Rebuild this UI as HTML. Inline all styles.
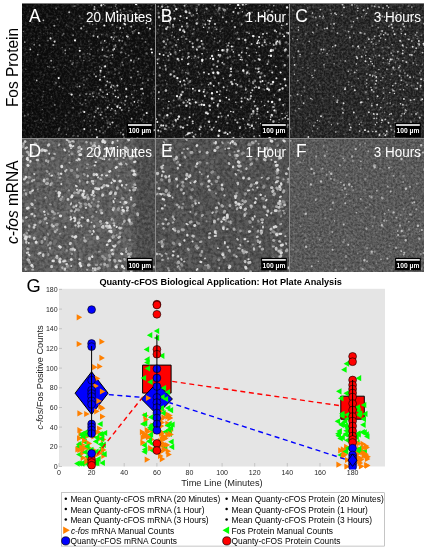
<!DOCTYPE html>
<html><head><meta charset="utf-8"><title>Quanty-cFOS figure</title>
<style>html,body{margin:0;padding:0;background:#fff;width:428px;height:550px;overflow:hidden}svg{display:block;font-family:'Liberation Sans', Arial, sans-serif}</style>
</head><body>
<svg width="428" height="550" viewBox="0 0 428 550">
<defs>
<linearGradient id="gD" x1="0" y1="0" x2="1" y2="0"><stop offset="0" stop-color="#000" stop-opacity="0.04"/><stop offset="0.2" stop-color="#000" stop-opacity="0"/><stop offset="0.83" stop-color="#000" stop-opacity="0"/><stop offset="0.87" stop-color="#000" stop-opacity="0.2"/><stop offset="1" stop-color="#000" stop-opacity="0.2"/></linearGradient>
<linearGradient id="gA" x1="0" y1="0" x2="1" y2="0"><stop offset="0" stop-color="#000" stop-opacity="0.25"/><stop offset="0.4" stop-color="#000" stop-opacity="0"/><stop offset="1" stop-color="#000" stop-opacity="0"/></linearGradient>
<filter id="soft" x="-1%" y="-1%" width="102%" height="102%"><feGaussianBlur stdDeviation="0.35"/></filter>
</defs>
<clipPath id="c0"><rect x="22" y="3" width="133" height="135"/></clipPath>
<g clip-path="url(#c0)">
<rect x="22" y="3" width="133" height="135" fill="#131313"/>
<rect x="22" y="3" width="133" height="135" fill="url(#gA)"/>
<filter id="g0" x="0" y="0" width="100%" height="100%" color-interpolation-filters="sRGB"><feTurbulence type="fractalNoise" baseFrequency="0.45" numOctaves="3" seed="3"/><feColorMatrix type="matrix" values="1.0 0 0 0 -0.425  1.0 0 0 0 -0.425  1.0 0 0 0 -0.425  0 0 0 0 1"/></filter>
<rect x="22" y="3" width="133" height="135" filter="url(#g0)" opacity="0.3"/>
<g filter="url(#soft)">
<path stroke="#2c2c2c" stroke-width="1.4" stroke-linecap="round" d="M100.3 73h0M93.7 24.2h0M116.7 13.6h0M70.5 92.5h0M87.8 123.5h0M43.6 23.3h0M125.4 8.9h0M120.1 67.9h0M67.9 127.3h0M154.9 95.6h0M135 5h0M108.5 119.8h0M56.9 121.9h0M70.8 129.4h0M144.4 30.5h0M38.6 11.7h0M135.4 128h0M116.7 9h0M41.1 60.3h0M76 47.8h0M128.8 27.9h0M75.8 41.6h0M77.7 136.8h0M68.6 71.5h0M45.6 26.7h0M102.9 33.3h0M108.1 16.5h0M37.9 39.9h0M53.9 39.2h0M79.8 20.7h0M119.1 126.7h0M110.6 22.3h0M129.8 42.3h0M127.6 128.7h0M73.3 60.6h0M121.6 85.2h0M81.7 7.3h0M86.3 124.8h0M153.9 4.2h0M32.1 17.6h0M141.2 25.1h0M89.6 96.8h0M102.6 102h0M31.8 127.5h0M122.6 3.2h0M107.8 105.6h0M60.4 48.2h0M143.3 84h0M88.1 97.2h0M62.2 20.1h0M146.4 13h0M121.6 98.5h0M136.7 60.6h0M146.9 48.8h0M119.7 71.6h0M80.7 93.7h0M89.5 102.8h0M148 110h0M87.3 11.5h0M27.4 79.6h0M95 53.1h0M150.1 59.9h0M105.9 54.6h0M82.1 23.3h0M146.9 119.8h0M73.1 21.8h0M128.1 105.2h0M116.6 41.2h0M23.4 63.7h0M23.4 65.9h0M119.9 94.6h0M35.6 82.5h0M27.3 6h0M119.9 123.1h0M85.7 118.6h0M90 94.2h0"/>
<path stroke="#2c2c2c" stroke-width="1.8" stroke-linecap="round" d="M138.3 38.2h0M22.9 92.6h0M35.2 59h0M52.9 120.9h0M62.1 119.7h0M124.7 52.6h0M22.4 70h0M45.4 27h0M105.5 80.1h0M97.5 19.9h0M32 43.6h0M47.2 14.1h0M78.4 4.9h0M98.9 38h0M27.1 120.6h0M82.8 62.3h0M69 113.2h0M95.6 128.7h0M90.2 75.9h0M81.1 60.3h0M114.3 30.2h0M42.1 81.6h0M97.9 136.7h0M151.2 97.8h0M28.3 16.3h0M153.7 4h0M63.5 87.7h0M143.6 23.2h0M111.5 72.8h0M146.1 49.2h0M72.1 124.5h0M106.7 60.6h0M132.3 43.3h0M79.5 116h0M58.3 58.1h0M80.9 44.5h0M106.5 60.2h0M127.1 63.9h0M80 57.9h0M40.1 72.7h0M25.9 24.4h0M107.4 78.1h0M39.8 82.1h0M65.9 59.6h0M144.3 58.9h0M46.6 44.6h0M127.1 14.4h0M62.8 29.8h0M90.1 131.7h0M103.4 48.5h0M91.4 117h0M57 66.5h0M55.5 40.4h0M126.8 89.7h0M55.1 81.9h0M152.4 10h0M147 60h0M52.7 37.2h0M98.2 13.4h0M151.1 9.4h0M148.5 44h0M105.8 113.6h0M77.9 8.8h0M82.5 83.3h0M81 36.4h0M80.8 48h0M38.9 88.4h0M70.2 61.1h0M30.3 33.5h0M96.2 108h0M147.9 132.5h0M144.2 121.5h0"/>
<path stroke="#363636" stroke-width="1.4" stroke-linecap="round" d="M145.9 39.5h0M120.2 101.9h0M25.1 48.8h0M52.9 73.7h0M104.7 4.9h0M90.3 59.4h0M36.8 120.7h0M74.2 120h0M152.4 5.1h0M84.5 9.2h0M72.5 87h0M34.8 26.5h0M91.8 65.2h0M142.1 47.5h0M34.6 79.5h0M88.2 102.1h0M87.6 14.1h0M50.4 116.1h0M110.2 122.9h0M152.5 95.9h0M43.3 94.7h0M88.2 85h0M88.4 96.4h0M107.3 34.8h0M88.6 22h0M121.5 103.1h0M73.2 63h0M60.5 3.3h0M76.8 132h0M110.3 78.4h0M23.9 130.8h0M73 24.1h0M106.3 73.7h0M153.5 91.5h0M72.7 124.4h0M113.8 47.7h0M52.4 81.7h0M122.6 130.4h0M101.2 81.1h0M41 128.5h0M57.3 68.8h0M126.3 32.5h0M100.2 77.9h0M119.1 113.7h0M111.9 12.8h0M70.2 87.6h0M122.4 116.2h0M98.9 49.6h0M23 111.8h0M24.8 54.7h0M77.6 135.4h0M43.2 117.7h0M135.1 84.4h0M94.4 93.1h0M153 56.1h0M41.3 72.1h0M147 123.4h0M37.3 100.2h0M142.8 79.3h0M80.7 121.8h0M51.3 52.2h0M148.6 131h0M32.9 25h0M41.6 132h0M119.8 79h0M150.3 35.3h0M30.8 55h0M43.6 33.4h0M33.3 51.8h0M59.4 21.8h0M88.4 12.3h0M113.3 77.7h0M70.6 74.1h0M82.1 68.7h0M59.7 106.6h0M31.4 38.7h0M144.2 103.3h0M148.8 79h0M88.1 78.6h0M151.2 120.5h0M53.9 20.1h0M116.7 69.5h0M107.7 51h0M87.2 49.5h0"/>
<path stroke="#363636" stroke-width="1.8" stroke-linecap="round" d="M77.4 4.4h0M41.7 100.1h0M89.2 57.8h0M46.2 127.1h0M42.8 121.8h0M113.2 57.2h0M58.3 31.2h0M90.7 100.3h0M49.9 56.1h0M54.6 84.1h0M76.5 66.7h0M61.3 134h0M66.8 82.3h0M68.1 55.9h0M124.5 23.9h0M71.7 44.8h0M148.1 65.3h0M47 63.3h0M80.4 131.2h0M65.5 49.4h0M86.1 105.9h0M94.3 111.7h0M114.1 48.7h0M51.7 106.3h0M116.5 26.2h0M144.2 63.3h0M118.7 68.4h0M109 57h0M93 15.3h0M129.9 121.5h0M38.4 127h0M83.7 57.7h0M56.4 109.4h0M32.5 113h0M148.2 14.7h0M75.9 55.3h0M148 4.1h0M43.1 137.1h0M87.5 66.7h0M151.4 22.1h0M68.1 26.2h0M150.9 8.8h0M30.9 136.9h0M131.8 31.5h0M126.4 90h0M32.7 133.8h0M36.3 61.3h0M47.5 32.3h0M63.1 52.2h0M136.4 57.8h0M138.3 59.1h0M73.7 126.6h0M65.7 44.9h0M124.6 82.8h0M31.8 93.2h0M60.4 64.8h0M22.2 103.4h0M95.3 8.9h0M101.1 41.6h0M117.1 11.8h0M138.7 9.9h0M154 98.5h0M150.1 133.7h0M143 77.9h0M102.7 77.2h0M94.2 62.4h0M130.6 122.7h0M28.1 125.6h0"/>
<path stroke="#3e3e3e" stroke-width="1.5" stroke-linecap="round" d="M130.8 103h0M96.8 11.5h0M22.1 129.9h0M30 47.5h0M135 108.5h0M85.3 87.9h0M29.7 11.2h0M90.4 33.8h0M87.3 70.5h0M112.9 41.6h0M36.9 40.5h0M154 92.5h0M99.4 80.3h0M149.2 30.5h0M92.7 94.9h0M90.2 71.2h0M57 116.3h0M109 7.8h0M88.3 117.2h0M123.9 103.6h0M62.5 101.4h0M114.9 36.3h0M135.9 126h0M126.8 131h0M91.5 107.6h0M127.9 34.5h0M107.1 61.4h0M128.1 35.1h0M124.3 44.6h0M129.9 13.4h0M113.5 118.6h0M91.2 113.9h0M27 105.2h0M118.8 14h0M40 32.4h0M116.5 46.8h0M105.7 67.6h0M102.9 3.6h0M110.1 60.6h0M105.9 35.4h0"/>
<path stroke="#3e3e3e" stroke-width="1.9" stroke-linecap="round" d="M74.2 19.7h0M152.8 117.6h0M100.6 108.5h0M154 86.7h0M46.1 27.6h0M138.2 71.4h0M141.3 72.5h0M65.2 128.1h0M105.9 100.5h0M109.4 122.2h0M120.1 77.1h0M76 86.3h0M112.7 101h0M152 79.7h0M133.6 24.9h0M132.1 138h0M26.8 52.6h0M52.1 33.6h0M93.9 92h0M92.3 18.3h0M31.8 22.5h0M115.6 44.6h0M91.5 4.8h0M101.2 91h0M100 132h0M72.6 115.6h0M93.1 19h0M124.7 43.4h0M77.2 84.3h0M95.9 106.8h0M138.8 74.4h0M146.4 67h0M136.7 107h0M112.8 100.2h0M77.2 62.8h0M26.8 60.9h0M44.1 74.9h0M100.9 22.2h0M84 80h0"/>
<path stroke="#4a4a4a" stroke-width="1.5" stroke-linecap="round" d="M106.9 60.3h0M98.1 35.5h0M92.9 58.6h0M118 19.9h0M120.7 36.1h0M106.3 42.4h0M151.2 133.6h0M131 70.3h0M115.3 70.5h0M112.2 93.2h0M118.9 130.6h0M57.6 133.5h0M120.1 96.1h0M113.8 116.1h0M126.1 11.5h0M100.6 75.3h0M94.9 67.6h0M114.7 127.7h0M135.2 121.4h0M106 11.5h0M107.8 35.9h0M107 14.8h0M120.7 66h0M93 55.7h0M81.1 23.4h0M133.4 85.4h0M88.3 19.2h0M138.2 7.3h0M153.2 72.1h0M125.2 16.2h0M151.3 5.8h0M82.9 54.3h0M131 16h0M124.5 84.1h0M99.9 95.2h0M118 132.7h0M38.7 38.4h0M29.1 102.4h0"/>
<path stroke="#4a4a4a" stroke-width="1.9" stroke-linecap="round" d="M114.7 12.9h0M73.8 135.4h0M113.7 46.3h0M151.2 93.2h0M116.6 126.2h0M98.7 112.7h0M139.2 12.2h0M83.1 111.3h0M141.7 98.4h0M92.1 134.8h0M108 82.3h0M108.4 100.7h0M73.8 79h0M129.4 10.8h0M116.7 8h0M97.8 86.7h0M49.3 67.2h0M102.7 47.5h0M128.5 131.1h0M118.8 15.1h0M79.1 113.5h0M42.5 96.8h0M84 54h0M88.8 74.9h0M133.2 68.4h0M131.2 103.3h0M50.5 33.1h0M73.4 6.3h0M68.1 129.1h0M147.2 54h0M145.7 23.5h0M89.8 121h0M93.4 120.8h0M110.8 13.7h0M106.6 34.1h0M89.3 60.6h0M66.6 24.9h0M134.3 126.3h0M80.1 71.3h0M113.1 10.6h0M135.1 14.1h0M105.2 131.2h0M103.3 3h0M130.9 70.4h0M107.9 122.1h0M144.5 133.4h0M143.6 123.3h0M80.8 112.4h0M114.7 86.8h0M135 123.2h0M96.3 23.9h0M68.6 112.4h0M109.8 123.8h0M111.7 63.5h0"/>
<path stroke="#585858" stroke-width="1.5" stroke-linecap="round" d="M109.2 92.4h0M97.6 50.8h0M95.1 125.3h0M97.6 10.2h0M141.2 95h0M88.7 41.2h0M129.2 39.1h0M120.1 94.7h0M72.9 28.3h0M133.8 68.1h0M43.5 91.4h0M23.8 98.3h0M102.4 48.5h0M73.6 96.9h0M110.2 55.5h0M112.6 88.6h0M65.1 65.4h0M72.4 101.3h0M99.6 57.1h0M55.1 69.4h0M51.4 96.7h0M117.9 98.3h0M134.1 60.3h0M137.2 5h0M103.7 126.1h0M35 121.3h0M95 99.5h0M136.6 90.7h0M106.9 120.7h0M148 85h0M141.6 120.8h0M110.1 126.9h0M111.4 7.3h0M89.3 47.2h0M95.1 9.8h0M99.6 74.9h0M82.2 18.7h0M154.7 56.1h0M91.1 43.8h0M130.2 84.6h0M25.9 69.2h0M109.4 43.9h0M50 89.8h0M90.3 54.6h0M124.5 16h0M116.4 125.8h0M89.1 5.2h0"/>
<path stroke="#585858" stroke-width="1.9" stroke-linecap="round" d="M80.2 103.3h0M120.8 132.6h0M105.7 109.4h0M134.4 90.6h0M105.7 109.6h0M106.5 90h0M140.7 118.8h0M125.8 44.7h0M134 132.6h0M116.4 36.7h0M83.5 77.4h0M116.9 10.9h0M28.2 114.5h0M148.5 74.6h0M73.1 62.7h0M106.1 116.7h0M124 137.3h0M130.8 10.7h0M138.5 9.9h0M129 108h0M97 97.2h0M65.7 115.5h0M77.4 86.9h0M107.6 123.4h0M142.1 38.6h0M102.2 59.9h0M135.9 46.6h0M108.6 72.2h0M40.9 120h0M115.3 47.1h0M110.6 62.9h0M62.4 35.3h0M101.9 96.4h0M115 74.1h0M123 129.6h0M104.9 5.6h0M70.6 94.3h0M101.3 127.6h0"/>
<path stroke="#686868" stroke-width="1.5" stroke-linecap="round" d="M135.7 29.7h0M132.6 104.9h0M58.9 128.9h0M153.7 74.3h0M101.6 68.7h0M90.5 130h0M105.5 97.2h0M69 93.4h0M87.6 53.6h0M69.5 48.8h0M66 122.3h0M118.6 105.3h0M110.9 116.7h0M142.5 119.2h0M70.5 60.7h0M137.9 74.9h0M72.9 136.1h0M114.4 37.6h0M135 85.2h0M122.9 37.2h0M122.2 41.5h0M151.6 24.1h0M23.5 31.5h0M62.9 88.5h0M116.8 27.5h0M85.8 103.7h0M150.2 9.2h0M138.7 105.7h0M132.6 3.4h0M112.4 57.4h0M135.4 126.5h0M154.4 89.1h0M113.3 32.7h0M132.1 18.8h0M147 122.3h0M62.2 47.5h0M73.4 29.2h0M125.9 57.4h0M142.5 110h0M147.9 96.1h0M121.9 32.4h0M42.3 109.6h0M119.7 29.3h0"/>
<path stroke="#686868" stroke-width="1.9" stroke-linecap="round" d="M103.2 132.7h0M24.7 115.7h0M108.4 50.5h0M119.1 73.1h0M48 40.6h0M96 110.8h0M99.7 66.8h0M123 65h0M141.7 102.6h0M89.7 54.1h0M59.5 128.1h0M83.7 26.3h0M53.8 67.2h0M137.4 136.9h0M74.8 6.1h0M132.4 135.8h0M63.6 33.8h0M83.9 84.8h0M115 69h0M110.4 19.4h0M82.2 104.6h0M101.7 34.6h0M89.7 23.5h0M86.4 31.6h0M122.3 40.6h0M84.3 120.5h0M73.1 107.7h0M105.7 56.1h0M131.5 50.7h0M138.4 100.4h0M86.6 93.7h0M100.9 43h0M57.4 19.2h0M54.4 118.5h0M121.4 102.6h0M146.3 53.2h0M133.7 62h0M99 93.5h0M101.9 112.3h0M78 136h0M79.6 16.3h0M56.2 8.5h0"/>
<path stroke="#7a7a7a" stroke-width="1.5" stroke-linecap="round" d="M134.2 30.7h0M132.7 31.7h0M120.6 132.4h0M83.8 60.4h0M79.3 47.9h0M137.7 102.3h0M65.4 53.4h0M136.8 112.1h0M117.7 90.2h0M108.5 127.6h0M92.5 24.6h0M102.5 19.3h0M115 104.2h0M101.5 67.8h0M109.6 104.7h0M106.8 47h0M116 4.5h0M114.5 32.9h0M86.8 78.9h0M66.4 134.4h0M140.4 77.7h0M106.9 21.3h0M88.9 114.5h0M115.4 6.2h0M91.1 49.3h0M113.3 50.5h0M95.4 112.2h0M121.4 13h0M125.7 53.7h0M132 12.1h0M132.9 33.2h0M90.3 125.7h0M123.4 28.2h0M110.6 110.2h0M47.8 66.5h0"/>
<path stroke="#7a7a7a" stroke-width="1.9" stroke-linecap="round" d="M131.3 26.4h0M79.8 95.2h0M124 8.8h0M34.2 44.8h0M54.8 104.9h0M102.9 92.1h0M148 80.3h0M122.2 62.5h0M94.2 74.1h0M128.7 55.4h0M102.5 118.3h0M145.5 41.9h0M115.8 113.5h0M142.6 82.9h0M144 115h0M101.4 3.6h0M121.6 52.2h0M86.1 94.1h0M96.6 28.8h0M85.4 99.9h0M100.5 72.1h0M99.7 130.9h0M106.2 85.2h0M72.3 64.3h0M130.7 127.4h0M92.7 93.3h0M133 97.4h0M119.4 19.9h0M111.7 85.3h0M90 94.3h0M128.8 110.6h0M103.1 97.2h0M120.8 52.6h0M124.9 104.7h0M80 56.5h0M58.8 130h0M56 82.9h0M121.9 48.1h0M104.4 55.8h0M59.3 86.6h0M108 127.1h0M39.5 45.3h0M120.4 10h0M73.1 35.3h0"/>
<path stroke="#9a9a9a" stroke-width="1.7" stroke-linecap="round" d="M37.7 54.6h0M110.3 124.3h0M106 85.3h0M115.3 45.4h0M65.2 50.4h0M113.5 85.7h0M104.4 66.7h0M24.8 42.1h0M115.3 110.7h0M138.6 58.7h0M147.2 27.6h0M107 56.8h0M140.8 88.9h0M113.3 94h0M131.8 94.3h0M110 82.4h0M137.8 71.5h0"/>
<path stroke="#9a9a9a" stroke-width="2.1" stroke-linecap="round" d="M131.1 77.5h0M114.9 90.5h0M129.3 132.2h0M51.2 60.8h0M121.8 110.1h0M113.2 49.8h0M143.1 93.5h0M53.4 45h0M125.4 100.8h0M93.5 35.9h0M54.3 25.7h0M112.4 24.8h0"/>
<path stroke="#b8b8b8" stroke-width="1.7" stroke-linecap="round" d="M94.5 6.9h0M94.4 116.7h0M79.6 86.4h0M131.2 26.6h0M93.4 96.5h0M37.7 18.3h0M112.5 54.9h0M36.7 80.4h0M131.6 118.7h0M121.6 78.8h0M43.4 20.3h0M111.8 108.6h0M113.5 39h0"/>
<path stroke="#b8b8b8" stroke-width="2.1" stroke-linecap="round" d="M123.2 134.6h0M127.8 36.8h0M100.6 114.7h0M81.2 28.4h0M119.4 40.5h0M69.2 12.2h0M111 87.1h0M131 60.4h0M100.3 89.7h0M97.9 108.5h0"/>
<path stroke="#d8d8d8" stroke-width="1.7" stroke-linecap="round" d="M103.4 3.8h0M96.3 129.6h0M107.2 81.3h0M102.4 49.9h0M94.2 9.1h0M104.7 40.8h0M136 4h0M154.4 130h0M114.3 48.9h0M96 76.4h0M30.4 49.4h0M126.9 36.2h0"/>
<path stroke="#d8d8d8" stroke-width="2.1" stroke-linecap="round" d="M151.3 49.2h0M142.1 88.8h0M117.4 85.6h0M125.2 24.5h0M123.9 18.7h0M50.5 38.4h0M107.6 107.6h0M131.7 21.3h0M100 79.8h0M126.4 96.6h0M111.5 37.2h0M84.3 129.1h0M117.3 106.2h0M150 28.8h0M97 137.3h0M120.1 107.7h0M126.2 88.9h0M54.6 41.6h0M112.5 122.5h0"/>
<path stroke="#f0f0f0" stroke-width="1.7" stroke-linecap="round" d="M109.8 19.1h0M117.5 107h0M118.2 97.3h0M49.8 3.2h0M146.3 22.9h0M104.4 76.6h0M107.3 94.2h0M115.6 96.5h0M124.3 23.7h0M97.7 36.8h0M120.3 27.9h0M134.4 101.8h0"/>
<path stroke="#f0f0f0" stroke-width="2.1" stroke-linecap="round" d="M104.3 25.5h0M136.9 17.7h0M101.3 5.4h0M58.7 78.1h0M117.2 11.9h0M138.8 33h0M152 52.5h0M100.6 70.7h0M79.8 50.7h0M71.7 94.6h0M84.3 112h0M75 40.4h0M136.1 4.2h0M105.2 66.3h0M146.7 113h0"/>
</g>
</g>
<text x="29" y="21.8" font-size="17.5" fill="#fff">A</text>
<text transform="translate(152,21.8) scale(1,1.1)" font-size="13.5" fill="#fff" text-anchor="end">20 Minutes</text>
<rect x="127" y="122.9" width="25.7" height="14.2" fill="#000"/>
<rect x="128" y="124.2" width="23.7" height="1.6" fill="#fff"/>
<text x="139.8" y="133.1" font-size="6.7" font-weight="bold" fill="#fff" text-anchor="middle">100 µm</text>
<clipPath id="c1"><rect x="156" y="3" width="133" height="135"/></clipPath>
<g clip-path="url(#c1)">
<rect x="156" y="3" width="133" height="135" fill="#181818"/>
<filter id="g1" x="0" y="0" width="100%" height="100%" color-interpolation-filters="sRGB"><feTurbulence type="fractalNoise" baseFrequency="0.45" numOctaves="3" seed="10"/><feColorMatrix type="matrix" values="1.0 0 0 0 -0.406  1.0 0 0 0 -0.406  1.0 0 0 0 -0.406  0 0 0 0 1"/></filter>
<rect x="156" y="3" width="133" height="135" filter="url(#g1)" opacity="0.3"/>
<g filter="url(#soft)">
<path stroke="#303030" stroke-width="1.4" stroke-linecap="round" d="M224.3 13.9h0M259.8 96.8h0M218.6 89.6h0M225.8 110.5h0M236.8 60.1h0M280.6 88.6h0M274.5 94.3h0M233.4 15.4h0M246.3 117.3h0M176.5 40.4h0M256.9 77.5h0M210 109.9h0M191.3 80.9h0M280.7 27h0M187.1 58.6h0M246.5 32.2h0M280.2 29.6h0M193.8 34.4h0M228.1 65.8h0M237 70.6h0M222.6 17.5h0M234.3 41.7h0M234.4 68.3h0M242.7 92.9h0M282.3 38.4h0M237.3 24.2h0M170.3 116.5h0M204.5 23.4h0M182.4 54.6h0M202.4 15.5h0M198.7 35.5h0M246.3 77.2h0M230.8 85.2h0M213 116h0M254.2 74.3h0M162.5 91.7h0M236.3 117.9h0M264.3 22.6h0M246 81.2h0M223.3 126.6h0M245.4 43.3h0M164.6 8.3h0M229 22.9h0M168.1 90.7h0M218.5 69.4h0M277.8 54.5h0M243.6 135.3h0M177.9 18.9h0M184.6 88.3h0M233.4 133h0M205.5 123.5h0M249.8 42.2h0M163.2 11.2h0M223.1 67.3h0M252.3 65.5h0M274.7 137.2h0M237.8 50.8h0M187.3 46.1h0M182.8 100h0M251.3 103.4h0M177.1 127.8h0M285.3 57.9h0M220.2 34h0M212.4 95.5h0M229.8 56h0M219.3 103.2h0M246.6 128.7h0M158.6 53.6h0M194.5 99.7h0M205.4 19h0M267.5 13h0M274.6 112.7h0M279.6 4.8h0M157.2 100.6h0M277.1 35.7h0M264.6 14.2h0M259.4 114.8h0M285.2 78.5h0M194.6 67.8h0M230.4 51.1h0M172.8 56.8h0M249.4 15.4h0"/>
<path stroke="#303030" stroke-width="1.8" stroke-linecap="round" d="M279.2 105.4h0M204.8 11.5h0M157.7 9.8h0M218.2 12.6h0M242.1 86.8h0M240.3 12.5h0M173.4 124.1h0M250.5 96.7h0M248.2 37.2h0M226.4 68.1h0M242.4 48.2h0M286.1 6.6h0M264.3 114.7h0M232.4 108.4h0M173.5 95.7h0M190.4 30.7h0M166.2 49.4h0M205.9 129.1h0M166.5 59.3h0M269.3 110.4h0M241.4 48.5h0M272.7 109.1h0M201.4 48.7h0M194.8 48.9h0M237.9 102.3h0M264.9 100.1h0M256.7 28h0M171.7 7.8h0M199.1 46.4h0M168.2 93.4h0M269.3 125.2h0M277.4 85.5h0M231.9 136.9h0M248 21.2h0M196.9 30.6h0M175.8 124.1h0M171.3 93.2h0M283.8 47.9h0M209.9 59.4h0M264 127.1h0M226.5 110.5h0M266.9 38.9h0M231.2 64.7h0M172 35.1h0M182.5 72.9h0M167.6 36.5h0M273 65.4h0M216.8 57.6h0M265.6 103.6h0M187.3 6.2h0M247.9 119.7h0M185.3 118.5h0M169.3 15.9h0M165.2 52.9h0M163.3 17.5h0M197.4 41.3h0M255.3 80.8h0M214.7 97.3h0M288.3 57.3h0M162.8 85.6h0M173.2 45.6h0M156.3 73.6h0M231.7 48.9h0M191.6 26.5h0M183.5 136.2h0M163.2 117.4h0M225.4 51.5h0M274.6 14.6h0M265.6 44.7h0M270.6 98.4h0M177.7 97.9h0M162.5 48.4h0"/>
<path stroke="#3a3a3a" stroke-width="1.4" stroke-linecap="round" d="M238.7 19h0M203 69.6h0M234.8 80.4h0M186.6 28.5h0M174.9 125.8h0M166.1 33.8h0M234.4 11.6h0M227.6 58.6h0M238.5 111.7h0M258.9 42.9h0M194.9 111.1h0M246.5 22.7h0M224.4 103.3h0M265.9 62.1h0M166.5 36.1h0M165.3 115.3h0M244.3 30.8h0M274.7 116.1h0M253.1 133.5h0M222.3 101.2h0M207.7 133.5h0M220.3 37.2h0M230.2 119.2h0M183.5 15.5h0M181.5 71.9h0M287.3 67.8h0M186.8 70.3h0M167.1 106.1h0M226.9 15.4h0M253.5 37.9h0M182.4 41.3h0M194.5 99.5h0M232.1 116.3h0M176.2 45.9h0M209 97.7h0M161.9 128.5h0M203.3 77.2h0M265.1 13.4h0M218.8 135.6h0M242.8 105.9h0M250.6 19.7h0M276 81.6h0M271.7 22.1h0M234.2 53.6h0M249.2 20.2h0M259.5 5.6h0M213.3 43.9h0M245.6 61.8h0M202.7 84.3h0M258.1 55.4h0M172.9 13.3h0M214.7 14.1h0M189.7 20.2h0M279.8 10.9h0M225.8 70.3h0M210.6 106h0M195.3 8.1h0M264.6 12.3h0M223 62.2h0M189.3 133.4h0M174.2 126.1h0M261.1 85.2h0M284.9 25.1h0M195.4 56h0M260.3 11.7h0M179.1 31.9h0M201.8 123h0M174.6 20.3h0M177.9 92.1h0M223.4 23.8h0M196.3 6.5h0M249 113.2h0M157.4 51.1h0M254.3 28.4h0M156.7 102.6h0"/>
<path stroke="#3a3a3a" stroke-width="1.8" stroke-linecap="round" d="M204.2 95h0M174.8 39.8h0M220.3 10.1h0M162.3 37.2h0M262.9 45.4h0M287.3 56.9h0M167.9 117.7h0M274.3 121.2h0M227.6 67.8h0M221.2 123.2h0M224.9 102.2h0M271.2 84.2h0M257.9 114.4h0M156.3 31.3h0M193.2 91.2h0M187.9 80.5h0M281.4 4.5h0M268.6 59.8h0M172.1 127.5h0M203 19.7h0M225.6 119.1h0M171 43.5h0M218.8 20.1h0M240.4 133.8h0M266.3 7.1h0M173.8 111.1h0M177.9 81h0M260.3 39.2h0M176.8 42.3h0M234.3 60h0M189.2 11h0M251.6 125.4h0M162.3 80.6h0M231.2 38h0M180.5 129.1h0M284.8 42.7h0M286.6 134.8h0M167.3 117.9h0M182.5 120.1h0M217.5 116.8h0M193 115.6h0M239.2 126.5h0M271.8 70.4h0M168.9 56.1h0M250.1 115h0M168.4 19h0M228.3 79.8h0M209.9 89.3h0M266.8 38.7h0M213.1 113.2h0M206.9 44.3h0M260.6 116.3h0M265.1 13.8h0M253.1 122h0M169.7 113.1h0M277 23h0M198.2 28.7h0M193.8 33h0M200.4 102.1h0M181.6 72.8h0M267.1 14.8h0M224.4 13.9h0M189.7 113.4h0M158.8 84.8h0M212.2 36.8h0M218.6 5.5h0M259.9 15.2h0M226.6 22.6h0M284.7 137.8h0M278.8 51.1h0M178.1 80.4h0"/>
<path stroke="#424242" stroke-width="1.5" stroke-linecap="round" d="M212.4 99.7h0M259.6 81.2h0M161.4 120h0M277.5 117.3h0M262.5 106.4h0M254.3 79.6h0M236.7 104.3h0M222.8 32.7h0M223.8 54.2h0M161.5 99.8h0M286.5 127.2h0M209.5 87.2h0M283.4 47.7h0M185 42.3h0M209.7 126.5h0M246.7 10.3h0M231.8 83.4h0M247.6 91.2h0M258.5 126.3h0M262.6 66.3h0M246.5 102.9h0M206.3 49.5h0M248.8 4.1h0M269.7 36.2h0M188 69.9h0M190.4 6h0M255.1 79.7h0M284.2 108.9h0M250.2 45.1h0M264.9 32.9h0M232.6 17.7h0M162.6 69.3h0M276.5 19.8h0M212.4 26.9h0M194.1 130.6h0M182.6 21.4h0M254 80.6h0M194.2 107h0M165.9 42.4h0M244.7 97.6h0M186.1 102.9h0M192.9 133.2h0M269.3 106.4h0"/>
<path stroke="#424242" stroke-width="1.9" stroke-linecap="round" d="M176.7 105.8h0M255.6 85.7h0M196 20.4h0M241.5 53h0M163 110.6h0M264.2 115.7h0M197.2 6.8h0M172.9 121.6h0M274 56.3h0M265.5 80.9h0M273.7 97.1h0M261.5 123.7h0M233.8 42.9h0M269.8 25.3h0M263.1 89h0M239.7 22.7h0M184.7 17.6h0M213.5 51.5h0M248.2 70.6h0M234.2 56.4h0M206.5 93.5h0M157.4 32.8h0M252.7 60.9h0M266.8 124.7h0M164.4 116.8h0M263.5 23.2h0M207.7 121.4h0M195.2 64.7h0M249.3 79h0M177.4 47.2h0M213.8 76.6h0M237.2 71.2h0M246.5 92.7h0M178.2 8.1h0M187.6 23.2h0M197.9 22.9h0M246.2 98.4h0M174.3 137.2h0M215.5 13.6h0M170.6 104.7h0M198.3 61.8h0M188.3 120.3h0M244.3 73.2h0M212 16.6h0"/>
<path stroke="#505050" stroke-width="1.5" stroke-linecap="round" d="M189.9 88.7h0M244.5 124.5h0M202.3 25.4h0M244 15.8h0M160.5 7.9h0M158.3 29.7h0M182.7 43.7h0M246.1 60.6h0M248.6 85.6h0M178.3 99.6h0M174.8 50h0M263.7 46.5h0M249.4 131.2h0M267.1 124.4h0M255.3 49.8h0M173.9 107.5h0M207.1 79.2h0M229.4 91h0M184.3 48.7h0M214.3 127.1h0M273.7 65.6h0M209 11.1h0M162.5 85.2h0M198.7 104.9h0M283.8 106h0M170 41.8h0M255.2 99.2h0M183.3 35.4h0M277.1 9.8h0M222.4 28.4h0M170.7 49.3h0M163.5 121.6h0M241.2 25h0M168.2 105h0M158.7 125h0"/>
<path stroke="#505050" stroke-width="1.9" stroke-linecap="round" d="M217.8 11.3h0M197.6 102.4h0M239.6 86.6h0M164.8 115.9h0M217.7 42.7h0M250 116.1h0M284.7 103.9h0M205.9 59h0M205.2 118.8h0M207.7 131.9h0M248.4 48.5h0M266.7 86.1h0M260.3 73.6h0M165.4 7.7h0M184.3 36.5h0M235.7 33.4h0M288.9 14.9h0M218.8 84.7h0M162.4 4.7h0M196.8 3.6h0M232.8 61.8h0M252.4 124.3h0M278 128.3h0M243.7 134.6h0M190.7 14.9h0M214.5 41.4h0M203 24h0M162.8 120.4h0M285.6 113.5h0M278.3 133.8h0M166.2 52.8h0M175.5 53.9h0M276.2 112.7h0M207.1 111.9h0M186.1 4.3h0M245.9 42.2h0M269.4 5h0M216.3 9.6h0M240.2 81.1h0M275.9 39.4h0M242.1 51.4h0M251.1 108.8h0M241.8 4h0M259.1 42.8h0M252.4 116.2h0M170.1 27.5h0M181 99.9h0"/>
<path stroke="#5e5e5e" stroke-width="1.5" stroke-linecap="round" d="M163.5 60.2h0M191.6 58.4h0M226.2 43.5h0M200.6 136.1h0M245.6 87.6h0M187.6 88.4h0M221.3 28.9h0M239.9 136.2h0M180.5 50.6h0M238.4 71.2h0M286.3 24.5h0M178.4 84.5h0M267.3 83h0M188.7 99.9h0M274.7 104.9h0M169.1 123.2h0M246.1 32.3h0M206.7 9.4h0M287.6 112.8h0M182.1 10h0M181.7 85.1h0M282.5 18.6h0M259.9 5.4h0M204.6 12.7h0M266.3 117.3h0M185.1 81.5h0M226.4 46.8h0M275.9 116.8h0M201.6 64h0M218.5 116.8h0M204.2 20.8h0M179.4 67.9h0M227.5 8.7h0M231.8 66.9h0M162.6 26h0M283.1 61.4h0M207.2 52.3h0M165.6 80.5h0M192.7 92.7h0M182.6 49.8h0M170.1 42.7h0"/>
<path stroke="#5e5e5e" stroke-width="1.9" stroke-linecap="round" d="M188 83.5h0M201.6 84.5h0M182.5 70.4h0M288.5 43.9h0M246.4 74h0M269.7 70.6h0M194.1 57.9h0M264.9 75.9h0M268.3 62.3h0M172.4 47h0M174.2 5.2h0M259.5 68.1h0M281.2 55.9h0M171.4 129.9h0M271.7 134.7h0M237.4 38.5h0M183.5 137.7h0M286.5 50.2h0M166.8 84h0M159 58.8h0M239.7 118.9h0M185.7 88.2h0M270.6 136.4h0M224.7 11.5h0M170.1 23.7h0M175.3 6.5h0M249 120.3h0M247.7 14.3h0M163.9 117.9h0M226.2 117.5h0M227.5 86.4h0M245.6 15.3h0M275.4 48.3h0M277.5 36.8h0M169 127.5h0M242.7 38.6h0M262.3 37.3h0M199.4 74h0M197.6 77.2h0M273.4 122.6h0M207.5 92.5h0M197.2 66.6h0M219.4 13.8h0M222.6 8.6h0M273 125.6h0M162.4 33.4h0M250.2 117.5h0M163.3 41.4h0M279.4 100.4h0M156.8 85.5h0"/>
<path stroke="#7a7a7a" stroke-width="1.6" stroke-linecap="round" d="M211.8 33h0M200.8 133.9h0M245.6 90.3h0M189.9 107h0M159.2 136.1h0M163.1 99.2h0M185.6 135.4h0M171.6 35.6h0M193.3 114.4h0M163.4 108.2h0M198.5 72.2h0M245.7 128.1h0M172.3 32.2h0M264.3 89.9h0M204.5 126.1h0M282.9 25.6h0M274.4 107.1h0M264 10.9h0M273.2 44.1h0M197.3 19.4h0M183 56.9h0M162.3 15.6h0M166 4.1h0M276.7 135.9h0M166.4 10.9h0M264.5 84.5h0M220.2 31.3h0M237.2 85.6h0M274.9 110.1h0M169.5 52.4h0M215.1 27.3h0M164 14.4h0"/>
<path stroke="#7a7a7a" stroke-width="2.0" stroke-linecap="round" d="M256 122.5h0M212 68.9h0M242.2 137.8h0M218.7 9.8h0M274.5 104h0M181.7 37h0M172.5 124.6h0M194.3 137.4h0M232 21.1h0M193.9 29.3h0M265.4 127.2h0M174.2 10.9h0M279.6 41h0M266.3 44.6h0M249.3 73.7h0M173.6 100.5h0M230.2 56.7h0M255.7 105.7h0M193.3 15h0M195.2 90.6h0M192.6 33.7h0M168.6 60.2h0M254.9 60.8h0M199.4 104.9h0M259.5 55.4h0M171 113.2h0M214.6 5.5h0M166 129.3h0M229.9 4.2h0M275.9 111h0M190.6 104.1h0M217.7 106.5h0M158.8 92.5h0M176 121.6h0M243.6 71.5h0M237.4 32.6h0M249.2 81.1h0"/>
<path stroke="#7a7a7a" stroke-width="2.4" stroke-linecap="round" d="M213.6 64.8h0M198.6 47h0M227.3 123.1h0M198.7 4.5h0M168.2 108.1h0M257 113.9h0M186.3 11.8h0M253.3 113.2h0M188.4 53.2h0M236.3 92.5h0M173.2 26.5h0M261.4 73.2h0M158.6 13h0M202.2 59.9h0M186.3 38.9h0M164.4 47.2h0M286.3 42.4h0M255 81h0M264.7 40.3h0M214.8 77.7h0M179.6 98.3h0M184.7 118.6h0M223.8 64.1h0M203.8 48.3h0M202.5 44h0M223.7 50.3h0M175.4 52.2h0M279.9 33.5h0M267.1 19.1h0M227.7 57.7h0M159.9 67.8h0M189.6 81.9h0M213.2 98.6h0M235.3 119.9h0M187.5 26.5h0M249.2 124.9h0M173.8 71.5h0M196.6 9.1h0M159.4 115h0M241.2 86.4h0M278.7 90.5h0M268.6 10.1h0M188.2 73.4h0M280.1 43.7h0M253.1 81.9h0"/>
<path stroke="#969696" stroke-width="1.6" stroke-linecap="round" d="M165.9 68.2h0M195.4 56.4h0M159.5 25.6h0M181.9 86h0M232 49.9h0M232.8 46.5h0M209.8 126.9h0M214.6 38.3h0M191.7 16h0M226.6 90.3h0M257.3 72.7h0M268.4 61.2h0M192.5 99.2h0M244.8 97.9h0M247.1 32.4h0M186.1 100.6h0M159.7 127.3h0M185.9 72.6h0M183 30.9h0M158.3 6.4h0M240.4 126.7h0M267.1 11.2h0M203.4 3.8h0M190.3 80.9h0M281.4 28h0M245.9 21.3h0M243.4 119.1h0M279.2 119.8h0M202.6 101h0M278.9 123h0M284.6 49.9h0M261.5 101.8h0M252.1 12.3h0"/>
<path stroke="#969696" stroke-width="2.0" stroke-linecap="round" d="M255.8 68.4h0M257.4 111.2h0M251.5 113.9h0M221.6 116.4h0M165.9 69.8h0M228.9 43.1h0M166.1 44.3h0M227 51.7h0M219.8 56.5h0M248.6 99.8h0M254.2 136.6h0M187.7 101.9h0M288.2 55.4h0M178.8 60.5h0M280.3 21.7h0M218.2 103.9h0M167.7 6.7h0M241.7 24.2h0M268.6 82.7h0M282.6 118.8h0M252.7 36h0M216.5 29.2h0M241.3 57.2h0M195.5 134.6h0M280.5 84h0M179.3 105.4h0M259.2 42.9h0M218.7 72.7h0M220.4 113.2h0M272.4 84h0M270.8 84.3h0M167.6 39.5h0M198.4 57.6h0M160.7 131.5h0M168.8 20.2h0M241.1 107.2h0M264.6 75.8h0M204.4 89.8h0"/>
<path stroke="#969696" stroke-width="2.4" stroke-linecap="round" d="M238.9 38.9h0M238.2 13.3h0M165.8 90.6h0M286.3 125.6h0M265.1 18.8h0M247.1 65.1h0M218 61.2h0M206.6 8.6h0M159.6 75.4h0M166.2 125.8h0M224.5 132.9h0M197.4 39.8h0M200.5 126.7h0M219.4 8h0M164.9 128.7h0M176 45.1h0M223.9 9.8h0"/>
<path stroke="#b4b4b4" stroke-width="1.6" stroke-linecap="round" d="M179.8 20.5h0M201 127.5h0M282 113.5h0M273.8 5.7h0M253.1 83.6h0M256.4 52.6h0M213.6 127.6h0M235.5 8.2h0M270.1 43.3h0M179.7 50.5h0M250.1 127.5h0M196.6 10.8h0M174.3 37h0M229.6 76.1h0M225.5 10h0M278.1 126.9h0M246.8 73.4h0M220.1 91h0M258.4 58.9h0M258.5 118.5h0M274.3 95.1h0M209 27.9h0M195 56.1h0M197.2 13.5h0M219.8 41.1h0M220.4 100.8h0M247.6 3.5h0M223.4 78.4h0M242.4 11.7h0M235.8 102.2h0M288 125h0M264.4 124.5h0M282.9 34.2h0"/>
<path stroke="#b4b4b4" stroke-width="2.0" stroke-linecap="round" d="M242 59.8h0M167.6 26.9h0M186.9 78.4h0M245.8 89.2h0M288 119.1h0M157.6 59.5h0M187.3 125.1h0M186.8 23.6h0M228.1 45.4h0M168.1 56.1h0M195.5 102.3h0M250.4 98.5h0M246.9 48h0M178.6 116.4h0M254.1 101.5h0M267.4 64h0M184.5 5.7h0M196.8 49.3h0M230 132.5h0M287 32.7h0M200 46.5h0M165.4 65.7h0M226.3 21.8h0M241.6 98.2h0M273.1 106.9h0M205.3 24.4h0M222.8 17.3h0M273.8 45.1h0M253.7 128.6h0M233.4 111.9h0M262.2 45.2h0M184.6 84.6h0M164.9 16.1h0M211 18.3h0M179.8 96.8h0M192.6 43.4h0M173.1 24.7h0M251.6 44.1h0M216.1 121.8h0"/>
<path stroke="#b4b4b4" stroke-width="2.4" stroke-linecap="round" d="M251 96.1h0M183.5 30.5h0M159 17.3h0M192.9 47h0M189.3 99.7h0M174.3 76.2h0M272.1 11.6h0M211.8 129.5h0M276.2 43.8h0M183.6 102.6h0M220.2 55.1h0M274.9 30.6h0M260.1 77.2h0M272.9 50.3h0M234.9 27.1h0M286.3 126.7h0M230.6 75h0M279.5 42.2h0M277 132.5h0M258.3 68.7h0M284.9 50.5h0M182.6 92h0M284.7 65.3h0M180.7 126.8h0M250 13.5h0M163.8 41.5h0M239.1 55.1h0M231.3 82h0M189.6 12.9h0M166 90.4h0M273.4 121.5h0M280.7 127.4h0M162.1 6.6h0"/>
<path stroke="#d4d4d4" stroke-width="1.6" stroke-linecap="round" d="M264.5 105.5h0M234.5 79.7h0M173.6 126h0M259.5 135.7h0M169.8 22.1h0M233.4 51.9h0M249.2 55.6h0M178.1 39.5h0M281.6 25.3h0M157.6 63.4h0M250.8 92.8h0M213.8 102.7h0M219.5 94.5h0M276.3 31.8h0M254.8 106h0M257.6 41.9h0M207.9 20.4h0M241.7 52.5h0M249.1 33.2h0M187.7 58h0M192.2 132.5h0M207.6 32.1h0M208.5 84.8h0M270.4 119.6h0M260.9 123.5h0M268.9 55.6h0M246.4 53h0M272.2 115.8h0M286.9 115.7h0M209.2 24h0M254.5 87.8h0M158.7 98.7h0M192.9 123.5h0M243.1 118.5h0M246 4.3h0"/>
<path stroke="#d4d4d4" stroke-width="2.0" stroke-linecap="round" d="M225.6 132.6h0M218.6 54.9h0M233.5 137.7h0M192.7 121.4h0M260.6 81.7h0M246.6 15.6h0M276.3 42.3h0M264.8 42.3h0M263 34h0M188.4 63.8h0M204.8 95.9h0M228.1 115.4h0M177.9 119.1h0M217.1 66.4h0M223.7 87.2h0M188.8 56.8h0M247.9 124.3h0M237.3 122.4h0M193.5 136.6h0M271.1 15.7h0M276.4 78.2h0M252.3 90.3h0M268.3 101.5h0M168.9 20.8h0M229.1 99.6h0M286.9 23.9h0M271.1 49.8h0M215 23.9h0M242.9 4.7h0M184 80.5h0M233.4 12.1h0M239.9 128h0M182 59.3h0M189.9 132.9h0M208.8 74.1h0M267.7 112.1h0M218.5 117h0M282.5 124.6h0M204 72.5h0M163.6 55h0M202.6 3h0M272.2 72.4h0M170.6 54.2h0M182 26.5h0M285.8 49.3h0"/>
<path stroke="#d4d4d4" stroke-width="2.4" stroke-linecap="round" d="M279.8 99.5h0M175.7 120.1h0M161.3 125.4h0M270.6 130h0M288.7 33.3h0M186.4 105.8h0M253.3 111.2h0M212.1 56h0M282.6 88.5h0M232.3 84h0M166.3 28.7h0M209.6 105.7h0M247.3 72.4h0M220 100.8h0M209.1 121.7h0M259 87.7h0M181.2 94.7h0M269 89.7h0M177.7 59h0M170.6 74.4h0M251.9 125.8h0M227.4 49.7h0M196.7 23.5h0M180 29.8h0M230.9 68.7h0M271.7 114.9h0M186.1 12.1h0M183.1 127.6h0M210.5 83.2h0M245.3 40h0M185.7 11.5h0M206.1 112.8h0"/>
<path stroke="#f0f0f0" stroke-width="1.6" stroke-linecap="round" d="M256.1 87.1h0M236 83.7h0M158.9 92h0M230.8 111.5h0M210.1 109.9h0M255.6 21h0M168.9 101.5h0M237.4 84.8h0M187.8 64.3h0M283.1 104.9h0M222.3 62.7h0M226.4 97.5h0M189.9 41.8h0M258.3 40.4h0M275.9 66.5h0M219.1 130.7h0M210.3 58.3h0M285.2 117.6h0M203.6 27.2h0M202.1 61.5h0M187.1 134.5h0M156.4 119h0M247.5 99.1h0M218.8 83.1h0M231.1 71.6h0M259.1 46.8h0M197 50h0M240.3 59.5h0M266.9 33.3h0M202.1 53.8h0M213.8 85.9h0M239.8 8.3h0M270.8 117h0M218.4 50.2h0"/>
<path stroke="#f0f0f0" stroke-width="2.0" stroke-linecap="round" d="M180.2 81.7h0M186.8 18.1h0M257.1 43.3h0M262.5 80.9h0M184.5 31.9h0M199.6 129.3h0M262.1 15.7h0M159.7 53.9h0M195.9 102.6h0M258.8 71.7h0M189.7 103.2h0M192.9 88.8h0M158.3 130.5h0M201.5 41h0M241.6 101.5h0M227.6 134.1h0M280.6 72.5h0M189.6 117.3h0M279.8 89.7h0M217 92h0M231.7 46.4h0M284.1 36.3h0M259.1 37h0M285.7 85.4h0M217.6 105.4h0M180.5 16.3h0M274.3 110.5h0M203.7 91.7h0M157.3 121.9h0M277.3 41.2h0M163.3 125.6h0"/>
<path stroke="#f0f0f0" stroke-width="2.4" stroke-linecap="round" d="M167.3 115.3h0M283 124.4h0M259.6 59.6h0M270.8 50.9h0M219.4 130.7h0M257.4 108.8h0M211.9 98.5h0M179 116.6h0M199.2 90.8h0M287.1 7.4h0M207.7 113.6h0M218.1 73.2h0M273.1 82h0M272.1 102h0M267.4 88.8h0M209.7 21.1h0M238.2 4.9h0M177 96.1h0M174.5 18.6h0M176.3 9.1h0M218.5 135.8h0M222.4 50.2h0M204.1 104.9h0M188.3 133.4h0M213.3 72.7h0M212 93.2h0M271 55.8h0M284.8 79.2h0M269.6 137.8h0M243.3 70.5h0M177.4 78.1h0M253.4 36.1h0M202.3 59.9h0M213.1 59h0M217.6 72.5h0M201.6 104.6h0"/>
</g>
</g>
<text x="160.7" y="21.8" font-size="17.5" fill="#fff">B</text>
<text transform="translate(286,21.8) scale(1,1.1)" font-size="13.5" fill="#fff" text-anchor="end">1 Hour</text>
<rect x="261.1" y="122.9" width="25.7" height="14.2" fill="#000"/>
<rect x="262.1" y="124.2" width="23.7" height="1.6" fill="#fff"/>
<text x="274" y="133.1" font-size="6.7" font-weight="bold" fill="#fff" text-anchor="middle">100 µm</text>
<clipPath id="c2"><rect x="290" y="3" width="134" height="135"/></clipPath>
<g clip-path="url(#c2)">
<rect x="290" y="3" width="134" height="135" fill="#2a2a2a"/>
<filter id="g2" x="0" y="0" width="100%" height="100%" color-interpolation-filters="sRGB"><feTurbulence type="fractalNoise" baseFrequency="0.45" numOctaves="3" seed="17"/><feColorMatrix type="matrix" values="1.0 0 0 0 -0.335  1.0 0 0 0 -0.335  1.0 0 0 0 -0.335  0 0 0 0 1"/></filter>
<rect x="290" y="3" width="134" height="135" filter="url(#g2)" opacity="0.35"/>
<g filter="url(#soft)">
<path stroke="#3c3c3c" stroke-width="1.4" stroke-linecap="round" d="M385.6 40.4h0M334.4 102.6h0M302 38.6h0M361.9 79.8h0M411.5 104.3h0M372.3 128.9h0M308.5 63.8h0M413.2 32.7h0M389.9 10.4h0M356.3 115.5h0M343.2 47h0M323.7 45h0M312 19.1h0M369.1 9.7h0M420.3 33.1h0M344.2 13.3h0M374.4 82.7h0M389.2 21.9h0M309 25.4h0M323.3 48h0M402.4 108.5h0M407 88.5h0M320.8 92h0M403.5 36.3h0M345.3 101.8h0M319.2 80.9h0M372.5 46.5h0M306.2 50h0M322 29.4h0M355.8 76.3h0M320.6 35.1h0M349.8 118.7h0M290.8 119.9h0M338.9 3.9h0M337.8 99h0M313.6 18.6h0M297.1 29.3h0M313.3 105h0M365.6 93.7h0M312.5 137.4h0M293 40.7h0M411 125.3h0M399.8 65.5h0M314.5 76.9h0M376.2 86.6h0M296.3 111.8h0M394.7 128.8h0M318.7 30.9h0M341.6 123.5h0M409.6 22.6h0M368.9 105.1h0M297 100.1h0M314.9 20.3h0M396.3 113.2h0M339.1 83.6h0M413.8 13.7h0M355.3 122.5h0M326.1 85.2h0M416.7 85.9h0M312 32.1h0M385.9 95.4h0M336.9 30.6h0M396.5 12h0M324 99.2h0M414.4 110.9h0M337.9 38.6h0M310.3 16.2h0M363.3 124.3h0M399.7 85.3h0M359 5.4h0M412.9 105.2h0M290.9 84.9h0M423.3 58.6h0M357.7 3.1h0M347.7 40.9h0M305.3 135.4h0M382.9 136.8h0"/>
<path stroke="#3c3c3c" stroke-width="1.8" stroke-linecap="round" d="M358.7 6.8h0M422.1 48.6h0M336.6 108.1h0M384.7 64.3h0M382.5 107.9h0M382 131h0M394 32.1h0M310.8 72.1h0M311.8 84.2h0M363.3 122.6h0M405.7 61.2h0M370.3 65h0M390 6.3h0M390.9 129h0M343.3 44.9h0M365.6 82.9h0M359.8 70.8h0M421 114.7h0M410 27.1h0M399.1 128.4h0M360.9 104.7h0M309.8 58.8h0M358.4 116h0M348.9 85h0M317.1 30.4h0M310.5 65.9h0M394 75.1h0M295.7 66.9h0M294.8 114.2h0M376.4 12.8h0M302.1 77.3h0M387.7 11.6h0M337.9 120.8h0M412.1 87h0M355.3 18.8h0M313.4 88.8h0M317.2 60h0M358.6 52.6h0M296 45.6h0M409 4.5h0M355.7 135.8h0M309.4 88.4h0M326.1 118.7h0M371.6 113h0M375.6 76.2h0M422.7 41.1h0M333.6 15.3h0M325.9 6.2h0M400.1 122.8h0M333.7 39.3h0M358.9 132.9h0M349.6 3.2h0M303.9 113.4h0M306.2 32h0M328.1 91.4h0M336.3 80.3h0M298.6 68.4h0M397.3 65.1h0M395.7 81.3h0M363.3 50.2h0M309.3 82.7h0M363.4 25.1h0M333.8 117.6h0M411.7 84.3h0M321.4 107.8h0M353.2 52.3h0M408 65h0M395.3 4.5h0M332.1 61h0M370.4 30.3h0M419.9 126.4h0"/>
<path stroke="#464646" stroke-width="1.4" stroke-linecap="round" d="M323.2 19.5h0M341.3 12.4h0M385.1 16.8h0M398.9 67h0M382.4 116.2h0M303.1 27.8h0M310.9 104.4h0M337.5 78h0M348.3 57.5h0M319.1 70.3h0M379.4 119.5h0M321.2 134.5h0M343.2 29.7h0M351.8 66.4h0M325.8 133.3h0M399.1 74.8h0M341.5 54h0M301.9 38.9h0M326.7 69.6h0M294.2 110.1h0M372.8 56.2h0M312.6 25.3h0M315.3 114h0M417 30.1h0M423.8 6.8h0M306.5 121.4h0M372.9 60.1h0M394.5 132.9h0M384.3 115.3h0M403.1 83.6h0M409 134.6h0M388.6 63.7h0M409.2 99.2h0M376.4 30.1h0M373.8 109.7h0M371.6 5.9h0M299.9 79.6h0M325.2 39.8h0M398.1 28.4h0M413.4 103.1h0M290.5 39.9h0M380.7 23.6h0M350.8 10h0M316.7 18.7h0M315.1 62.3h0M376.2 23.1h0M290.6 106.7h0M338.6 51.5h0M373 124.2h0M323.9 103.2h0M385.9 47.2h0M351.9 53.4h0M381 14.2h0M308.1 26h0M320 48.3h0M405.5 121.9h0M404.7 73.7h0M388.1 94.6h0M395.5 41.4h0M301.4 91.3h0M317.9 133.9h0M390.3 41.4h0M412.8 40.1h0M398.2 68.7h0M397.2 57.1h0M327 23.3h0M333 98.6h0M344 14.4h0M367.3 73.2h0M344 12.4h0"/>
<path stroke="#464646" stroke-width="1.8" stroke-linecap="round" d="M324.2 38.3h0M388.4 116.1h0M295.9 48.7h0M421 22.5h0M416.9 78h0M309.3 74.2h0M402.6 25.6h0M420.3 75h0M386.7 33.1h0M366 58.4h0M404 81h0M300.4 34.7h0M300.5 10.8h0M319.3 40.6h0M369.2 109.7h0M323.5 42.1h0M316.9 88.7h0M311.6 43.4h0M330.1 70.6h0M318.5 40.7h0M330.6 129.8h0M375.8 25.2h0M341.6 26.2h0M348.8 119.7h0M410.2 125.6h0M293.5 24.2h0M394.8 11.8h0M298.2 105.8h0M381.9 131.7h0M391.8 60.5h0M300.3 128.3h0M355.6 51.8h0M344.7 40.3h0M293.5 36.4h0M407.7 84.1h0M292.8 127.5h0M423.4 125.1h0M323.6 42.4h0M298.7 36.3h0M338.4 66.1h0M299.7 116.3h0M339.5 64.1h0M418 12.8h0M327.9 45.3h0M372.1 54.4h0M343.6 5.9h0M420.8 127h0M358.4 94h0M402.3 4.7h0M395.5 115.3h0M322.2 29.6h0M337.4 83.5h0M350.1 27.3h0M335.1 37.3h0M385.7 74.5h0M309.7 6.8h0M300.8 69.6h0M311.4 88.1h0M386.4 55.2h0M337 81.8h0M384.5 97.4h0M322.3 13.4h0M335.1 97.4h0M311.9 44h0M313.5 3.7h0M413.2 107.5h0M336 23h0M406.2 25.9h0M418.1 123.4h0M345.8 77.6h0M423.5 95.2h0M389.8 106.9h0M325.1 31.6h0M296.5 83.4h0M304.3 45h0M325.4 50.7h0M358.8 120.6h0M362.3 53.1h0M368.7 39.3h0M312.7 6.4h0M415.4 103.6h0M366.5 67.4h0"/>
<path stroke="#5c5c5c" stroke-width="1.5" stroke-linecap="round" d="M388.6 54.8h0M380.1 74.1h0M301.9 102h0M412 130.9h0M364.2 17.1h0M364.6 15.4h0M374.4 114.8h0M381.1 118.3h0M371.1 59.4h0M415 60.3h0M386 87.9h0M411 102.6h0M363.1 62.9h0M365.2 107.8h0M395.7 69.2h0M365.1 93h0M317.4 89h0M414.4 118.8h0M346.1 17.1h0M405.1 131.8h0M387.8 132.5h0M384.3 75.6h0M326.4 55.3h0M395.4 34h0M322 115.2h0M397.7 52.7h0M390 98.2h0M309.7 114.7h0M385.6 81.7h0M369.1 46.8h0M407.8 62.7h0M384 22.7h0M378.9 136.3h0M345.5 93h0M410.7 120.8h0M369.9 27.8h0M295.4 45.2h0M392.2 21.8h0M405.9 97.1h0M402.1 79.9h0M331.5 117.1h0M330.2 58.1h0M381.3 102.4h0M365.2 84.6h0M335.1 87.6h0M382.2 112.2h0M408.2 18.1h0M344.2 134.6h0M371.1 136h0M421.1 89.1h0M383.3 134.4h0M316.7 28.7h0M386.9 34.2h0M413 85.4h0M293.4 101.3h0M415.9 58.8h0"/>
<path stroke="#5c5c5c" stroke-width="1.9" stroke-linecap="round" d="M337.3 80.9h0M331.8 31h0M399.4 7.4h0M397.8 120.8h0M401.3 41.8h0M350.8 21.3h0M306.3 118.5h0M383.5 50.9h0M392.6 50.4h0M392 106.1h0M350.3 73.9h0M322.5 98.4h0M328.6 121.7h0M379.7 109.6h0M404.3 57.7h0M372.3 80.6h0M370.5 59.1h0M327.9 54.9h0M362 125.3h0M403.8 70.6h0M351.3 70.3h0M406 82.2h0M345.2 30.6h0M387.4 46.9h0M346 35.4h0M342.4 118.2h0M356.9 5.7h0M401.6 31.1h0M363.6 115.8h0M303 43.4h0M343.9 110h0M354.2 85.8h0M340.6 60.4h0M393.6 51.6h0M371.6 106.2h0M403.2 107.4h0M329.3 50.6h0M333.7 55.3h0M407.5 39h0M363.1 132.1h0"/>
<path stroke="#787878" stroke-width="1.5" stroke-linecap="round" d="M419.6 133.1h0M304.7 4.1h0M373.6 57h0M319.7 85h0M323 117.1h0M373.9 38.2h0M365.5 14.1h0M309.7 123.1h0M319.6 53.6h0M307.9 9h0M368 37.7h0M408.6 127.8h0M324 18h0M319.5 121.2h0M362.6 102.2h0M394.3 70h0M410.1 26.1h0M291.8 28h0M381.8 119.8h0M348.4 84.4h0M417.1 36.3h0M423.8 80.5h0M384.5 112.5h0M366 42.4h0M315.2 122.4h0M417.2 38.8h0M415.7 22.5h0M302.8 67.4h0M393.1 104.6h0M413.1 37.9h0M363 49.9h0M307.8 7.6h0M380 133.8h0M390.2 79.7h0M371.8 103.5h0M352.2 109.1h0M400.6 84.4h0M322.7 52.7h0M304.5 90.9h0M415.2 50.7h0M401.4 77.7h0M422.4 64.4h0M330.1 118h0M422 17.7h0M324.2 67h0M421.7 115.3h0M375.4 55.4h0M354.8 4.7h0"/>
<path stroke="#787878" stroke-width="1.9" stroke-linecap="round" d="M389.6 25.5h0M387.2 103.5h0M397.1 58.3h0M330.9 24.1h0M305.9 33.9h0M386.8 134h0M408.4 6.1h0M421.3 35.3h0M333.4 28.2h0M313.1 16.9h0M366.5 52h0M405.2 112.3h0M290.6 128.9h0M392.6 119.3h0M356.5 117.3h0M375.7 72.3h0M421 100.2h0M404.8 73.2h0M300 56.4h0M361.5 33h0M372.5 25.9h0M394.3 91h0M397.6 17.8h0M378.6 6.7h0M372.1 39.2h0M417.5 112.6h0M353.8 33.3h0M395 122.6h0M348.8 81.9h0M411.5 85.6h0M374.7 75.7h0M311.8 53.5h0M413.6 125.8h0M383.3 62.6h0M400.2 71h0M334.2 63.8h0M421 70.9h0M403.3 46.5h0M373.7 49h0M387.1 6h0M382.3 47.6h0M292.9 10.2h0M406.3 105.1h0M373.2 43.9h0M295.5 110.7h0M393.2 20.1h0M381.5 3.4h0M393.3 68.9h0M401.1 12.8h0M330.3 9.9h0M411.5 114.2h0M380.5 126.8h0M388.8 47.7h0M395.4 62.5h0M361.1 122.2h0"/>
<path stroke="#989898" stroke-width="1.5" stroke-linecap="round" d="M401 120.1h0M416.7 64.8h0M312.1 99.5h0M361.7 16.7h0M301.4 95.4h0M406.5 110.4h0M396.9 12.7h0M392.5 59.2h0M423.6 23.7h0M351.8 86.5h0M366.5 86.8h0M394.2 136.7h0M383.6 98.4h0M398.7 59.1h0M312.7 130.9h0M358.3 78.5h0M372 6.1h0M381.4 122.6h0M392.2 89.3h0M380.8 80.4h0M356.7 70.3h0M406.5 47.5h0M322.7 18.1h0M410.5 77.5h0M383.9 133.5h0M293.8 57.4h0M308 68h0M292.7 38.7h0M298.4 27.3h0M402.1 113.7h0M317.4 128.7h0M415.3 88.7h0M387.5 59.4h0M368.5 64.7h0M414.3 52.1h0M400.1 89.5h0M313.5 33.1h0M413.6 77h0"/>
<path stroke="#989898" stroke-width="1.9" stroke-linecap="round" d="M401.3 115.8h0M383.2 58.3h0M411.8 7.1h0M383.1 8h0M412 54.9h0M324 64.7h0M412.8 20.2h0M349.9 130h0M314.8 70.5h0M391.2 53.2h0M419.2 44h0M342.2 15.1h0M349.5 124.3h0M315.7 17.4h0M337.6 100.2h0M290.6 95.6h0M400.9 29.2h0M383.6 93.1h0M405.8 124.5h0M374 66h0M418.3 43.6h0M366 92.1h0M416.9 32.5h0M364.7 33.8h0M351.7 26.7h0M391.6 74.1h0M395.4 17.6h0M352.9 46h0M342.3 108.7h0M313.8 125.7h0M385.4 33h0M345.4 61h0M389.2 63.5h0M423.8 45.1h0M373.7 91.7h0M411.8 41h0M410.9 128.1h0M371.5 42h0M324.7 28.6h0M366.6 79.9h0M416.5 135.6h0M379.3 35.7h0M297.8 80.6h0M382.2 16.3h0M317.2 25h0M415.6 34.9h0M386.9 69.2h0M388 34.6h0M393.2 67.5h0M337.7 123.8h0M391.4 129.7h0M364.8 47.2h0"/>
<path stroke="#bcbcbc" stroke-width="1.5" stroke-linecap="round" d="M366.8 74h0M385.5 39.4h0M366.8 83.3h0M388.8 26.4h0M358.5 46.2h0M410 15.3h0M403.6 89.7h0M376 88h0M387 5.6h0M392.9 55.2h0M376.7 118.2h0M371 87.4h0M313 77.5h0M332.7 46.8h0M331.4 124.8h0M359.4 124.3h0M361 3.3h0M294.4 74.2h0M297.3 39.6h0M380.7 38.1h0M376 44.3h0M366.5 13.5h0M392.1 44.7h0M379.2 7.2h0M378.1 27.8h0M380.9 34h0M365.7 55.4h0M378.9 69.4h0M299 108.4h0M389.6 61.3h0M389.8 92.6h0M393.5 31h0M372.5 76.2h0M390.2 103h0M312.7 32.3h0M334.2 23.8h0M389.6 114.5h0M376.8 122.4h0M372.9 75.2h0M401.4 33.5h0M357.8 10.8h0M388.6 7.6h0M317.4 120.4h0M394.5 131.3h0M327.1 53.6h0M372.8 131.5h0M419.8 73h0M383.5 88h0M323.3 16.2h0M333.3 96.3h0M312 75.5h0M420.2 86.9h0M379.2 41.1h0M331.1 13.8h0M309.2 41.5h0M335.8 132h0M304.1 87.1h0M359 48.1h0"/>
<path stroke="#bcbcbc" stroke-width="1.9" stroke-linecap="round" d="M379.2 55.5h0M417.7 83.1h0M392.4 27.7h0M367.9 8.4h0M407.5 134.3h0M398.9 67.6h0M407.6 75.5h0M323.6 49.5h0M354.7 72.4h0M416 114h0M408.9 39.4h0M342.5 4.5h0M404.1 26.5h0M357.3 18.2h0M298.4 51.3h0M321.3 49.5h0M411 122.1h0M393.4 67.6h0M361.5 102.1h0M360.2 32.8h0M415.2 136.1h0M391 59.2h0M375.6 83.9h0M391.2 113.7h0M343 112.7h0M397.9 51.6h0M403.1 24h0M395.4 131.9h0M356.5 56.8h0M361.7 56.8h0M297.5 94.4h0M410 77.2h0M419.3 44.7h0M303.6 103.3h0M337.4 33.1h0M390.6 126.1h0M374.6 6.4h0M415.2 134.8h0M335 13.3h0M395.6 83.4h0M370 75h0M359.6 131.1h0M349.9 37.5h0M382.1 31h0M414.2 99.6h0M319.8 16.4h0M348.6 31.6h0M422.6 52.6h0M410.6 100.3h0M371.8 105.4h0M410 54.7h0M385.3 119.4h0M363.6 10.3h0M419.8 117.8h0M320.4 9.6h0M402.9 104.7h0M399.5 75.6h0M352 4.9h0M416.2 48.3h0M380.8 107.6h0M393.1 90.5h0"/>
<path stroke="#dcdcdc" stroke-width="1.5" stroke-linecap="round" d="M336.2 14.4h0M394.4 93.6h0M413.1 63.1h0M385.9 20.6h0M310.9 98.4h0M369.7 58.6h0M356.4 64h0M372.3 63.7h0M411.7 55.1h0M417.3 127.8h0M300.1 54.5h0M400.5 103.7h0M374.1 118.6h0M345.2 87.9h0M375.6 3.4h0M375.3 124.8h0M384.4 17h0M402.9 50.4h0M353.5 21.7h0M405.3 110h0M370.8 61.5h0M312.6 13h0M402.9 60.7h0M357.9 8.3h0M348.2 71.2h0M298.5 30.1h0M383.7 34.7h0M399.9 66.1h0M392.8 85.8h0M401.3 80.3h0M374.8 36.2h0M368.1 98.9h0M404.4 113.7h0M416.8 135.9h0M382.9 77.7h0M407 84.9h0M333.9 24h0M396.1 131.1h0"/>
<path stroke="#dcdcdc" stroke-width="1.9" stroke-linecap="round" d="M344 7.4h0M388.5 122.8h0M379.4 135h0M398.9 130.5h0M365.2 130.1h0M353.8 112.4h0M391.5 24.4h0M357.3 58.3h0M418.9 41h0M377.1 104.8h0M386.7 131.3h0M365.5 61.2h0M308.4 137h0M321 116.2h0M405.3 34.2h0M294.6 64.9h0M379.9 15.6h0M345 89.3h0M406.3 62.1h0M350.7 127.4h0M377.1 114.3h0M376 131.4h0M354.9 90.3h0M385.3 135.2h0M327.1 28.3h0M403.9 98.9h0M337.1 102.1h0M414.6 129h0M368.9 112.2h0M420.7 85.6h0M382.1 120.2h0M373.7 113.9h0M417.1 88.7h0M364.7 130.1h0M377.6 96.2h0M422.2 99.2h0M400.1 40.7h0M421.1 79.2h0M376.3 80.8h0M360.9 102.5h0M368.9 39.1h0M423.5 43.8h0M376.3 77h0M358.1 46.5h0M402.6 45.2h0M335.5 45.5h0M407.2 133.7h0M343.6 103.3h0M394.5 34.3h0M368.3 131.4h0M371.8 89.9h0M412.7 46.7h0M402.7 53.4h0M390.6 59.6h0"/>
</g>
</g>
<text x="295.2" y="21.8" font-size="17.5" fill="#fff">C</text>
<text transform="translate(421,21.8) scale(1,1.1)" font-size="13.5" fill="#fff" text-anchor="end">3 Hours</text>
<rect x="395.1" y="122.9" width="25.7" height="14.2" fill="#000"/>
<rect x="396.1" y="124.2" width="23.7" height="1.6" fill="#fff"/>
<text x="408" y="133.1" font-size="6.7" font-weight="bold" fill="#fff" text-anchor="middle">100 µm</text>
<clipPath id="c3"><rect x="22" y="139" width="133" height="133"/></clipPath>
<g clip-path="url(#c3)">
<rect x="22" y="139" width="133" height="133" fill="#5c5c5c"/>
<rect x="22" y="139" width="133" height="133" fill="url(#gD)"/>
<filter id="g3" x="0" y="0" width="100%" height="100%" color-interpolation-filters="sRGB"><feTurbulence type="fractalNoise" baseFrequency="0.35" numOctaves="3" seed="24"/><feColorMatrix type="matrix" values="1.2 0 0 0 -0.239  1.2 0 0 0 -0.239  1.2 0 0 0 -0.239  0 0 0 0 1"/></filter>
<rect x="22" y="139" width="133" height="133" filter="url(#g3)" opacity="0.24"/>
<g filter="url(#soft)">
<path stroke="#666666" stroke-width="3.0" stroke-linecap="round" d="M64.7 166.9h0M114.8 141.4h0M85.6 192.7h0M75.9 187h0M110.4 214.2h0M98.2 237.8h0M100.6 183.8h0M130.8 234.2h0M106.1 226.5h0M102.3 239.7h0M96.5 271.9h0M67.2 268h0M31.2 246.5h0M84.8 162.7h0M120.3 180.5h0M79.3 246h0M67.8 217.7h0M73 250.6h0M36.3 238.5h0M123.4 216h0M116.3 254.9h0M46.3 153h0M69.1 150.5h0M90.5 153.4h0M108.5 186h0M50.5 207.8h0M115 207.2h0M128.1 210.5h0M125 258.9h0M41.6 228.8h0M130 158.7h0M30.4 165.3h0M33 147.2h0M63.5 221.7h0M68.5 266.3h0M108.3 269.2h0M55.9 171.5h0M94.4 257.5h0M81 256.9h0M71.6 187.4h0M126.2 213.6h0M129 172.5h0M81 177.5h0M130.1 254.4h0M73.1 270.5h0M72.6 246.2h0M110 239h0M53.9 153.4h0M25.4 220.7h0M103.4 230.9h0M22 247.5h0"/>
<path stroke="#666666" stroke-width="4.0" stroke-linecap="round" d="M110.4 203.8h0M79.4 168.7h0M110.6 166.3h0M125.8 202.2h0M114.9 153.4h0M81.1 254.1h0M90.7 213h0M83.7 147.8h0M102.4 175.9h0M56.9 162.9h0M48.9 269.7h0M82.4 148.6h0M122.5 202.2h0M99.4 188h0M101.4 245.8h0M125.7 271.4h0M63.8 214.2h0M119.8 255.9h0M96.7 201.4h0M81.2 195.4h0M108.9 272h0M124.8 255.2h0M69.1 146h0M86 239.3h0M105.8 254.7h0M110 159.7h0M64.5 168.1h0M85.7 188.1h0M61.9 263h0M27.3 224.6h0M126.3 246.4h0M34.5 226.3h0M31.4 169.7h0M116 213.3h0M117.5 156.9h0M68.2 192h0M79.3 160.8h0M29.5 203h0M135.2 148.8h0M117.4 169.2h0M115.4 222.3h0M92.2 242h0M101.2 146.1h0M132.4 162.4h0M127.4 189h0M117.4 259h0M100.8 178.8h0M125.7 270.2h0"/>
<path stroke="#6e6e6e" stroke-width="3.0" stroke-linecap="round" d="M28.9 256.4h0M110 222.4h0M108.7 250.6h0M57.1 168.1h0M97.8 176h0M106.5 255.1h0M77.8 170.2h0M80.1 250.9h0M88 238.8h0M64.5 150h0M76.5 244h0M23.2 242.5h0M104.9 173.8h0M28.1 162.3h0M60.7 266.6h0M119.6 210.5h0M126.3 255.6h0M38.2 160.8h0M58.4 177.3h0M61.3 251.9h0M129.8 199.1h0M83.3 183.6h0M46.8 182.2h0M50.4 192.4h0M24.4 251.3h0M80.4 164.7h0M75.1 206.2h0M90.9 227h0M36.8 151.1h0M112.5 183.2h0M125.6 231h0M108.4 170.7h0M53.5 142.9h0M66.4 188.3h0M127.3 201.5h0M98.5 198.8h0M55.2 218.3h0M29.6 156.6h0M85.8 204.3h0M54.3 243.8h0M72.7 271.6h0M64.5 212.2h0M53.9 175.5h0M94 199.7h0M22.8 218.5h0M80.4 254.6h0M119.2 170.7h0"/>
<path stroke="#6e6e6e" stroke-width="4.0" stroke-linecap="round" d="M75.2 236.4h0M53.9 270.4h0M26.7 204.8h0M98.8 183.4h0M109.2 265.2h0M114.1 229.5h0M96.5 219.2h0M95.1 143.5h0M90.5 242.4h0M131.3 266.8h0M68.2 266.8h0M82.3 264.8h0M123.6 249.7h0M31.9 255.7h0M28.3 207.1h0M131.8 267.7h0M68.4 207.3h0M73.4 269.5h0M50.7 250.9h0M108.3 258.2h0M65.1 159.1h0M65.2 218.4h0M124.5 239.3h0M63.1 198.3h0M67.4 181.6h0M98.9 230.3h0M55.1 241.4h0M66.6 271.8h0M37.1 243.2h0M135.9 174h0M89.7 255.2h0M41.2 210.6h0M94.2 237.9h0M99.1 225.2h0M39.6 165.7h0M109 176.1h0M54.6 228.5h0M30.9 237h0M134.3 183.5h0M109.9 252h0M26 169.7h0M127.2 271.9h0M97.3 223.9h0M120.5 150.9h0M134.9 171.2h0M113.8 195.9h0M74.2 173.2h0M113.7 149.4h0M129.9 248.8h0M38.5 184.3h0M105.6 153.8h0M108.1 186.5h0M115.1 210.9h0M94.4 204.9h0"/>
<path stroke="#989898" stroke-width="1.8" stroke-linecap="round" d="M54.2 217.8l-0.8 0.8M87.2 168.2l-0.5 -0.1M30.4 162.2l-0.4 0.3M88.3 164.5l-1.3 -0.4M99.9 251.7l-1.3 0.1M79.3 220l0.7 -0.9M125.3 188.2l-0.7 -0.8M47.8 213.9l0.6 0.2M91.7 202.6l0.1 0.2M118.6 175.8l-0.1 -0M87.6 194.8l-1.3 0.7M56.2 191.1l-0.3 0M122.9 223.6l-0.5 0.7M50.9 204.5l-1 -0.3M69 151.5h0M117.4 264.7l-0.7 0.4M120.7 156.2l0.1 -0.9M93.3 148.5l-1.4 0.1M60.6 233.6l-1 0.2M118.8 163.5l0.8 1M35.1 200.1l0.1 0.2M47.9 233.7l0.3 1.1M101.9 179.5l-0.1 -0.4M113.5 220.7l0 -0.8M51.6 182.7l0.7 0.6M32 180.8l0.1 -0.1M101 224.1l0.5 -0.5M37.7 189.4h0M48.5 244.6l-0.6 0.9M116.7 234.9l-0.6 0.8M69.4 155l-0.1 -0.1M98 157.8l-0.2 -0.1"/>
<path stroke="#989898" stroke-width="2.3" stroke-linecap="round" d="M135.9 174.7l-0.7 0.8M58 213.1l-0.2 0.3M68.9 190.4h0M71.9 253.9l-0.2 0.1M37.4 139.6h0M46.7 171l0.7 0.7M94.5 143l0.6 -0.3M22.6 156l-0.7 0.7M92.9 182.5l-0.7 0M92.7 216.3l-0.6 0.5M83.9 174l0.7 0.7M97 265l-1.1 -0.1M130.3 158.6l1.4 -0.2M65.1 268.4l-0.5 0.4M73.5 141.3l0.4 0.4M114 236.8l-0.3 0.1M27.3 182.4l0.8 0.1M76.6 204.9l-0.1 -0.1M133.8 187.5l-0.7 -0.6M91.3 143.8l-0.5 -1.1M113.1 235.5l0.6 0.2M66.7 250.5l-0 0.2M38.3 254l0.7 -0M121.1 162.7l-0.3 0.7M26.9 233.4l-0.3 -0.7M77.2 177.1l0.5 -0.3M48.4 254.2l-0 0.9M34.9 208.3h0M101 264.5l-0.2 0.1M101.5 210.1l-1 0.6M88.1 221l0.5 0.3M93.1 271.1l-0.4 -0.9M115.7 159l1.5 0.1M58.5 173.5l0.1 1M121.8 212.6l0.1 1.4"/>
<path stroke="#989898" stroke-width="2.8" stroke-linecap="round" d="M74.3 192.9l0.6 -0.3M50.5 242.6l-0.2 0.6M109.3 255.3l0.6 1.4M131.5 223.4l-0.8 0.6M39.9 222.3l0.5 -0.7M67.5 265.3l-0.1 1.1M130.9 254.2l0.2 -0.9M93.5 154.4l-0.9 0.8M29.6 177.4l-0.9 0M123.8 271.7l0.6 0.8M78 176.2l-0.9 -0.5M124 203.9l0.2 -0.1M131 270.1l0.5 0.4M29.2 261.8l0.5 0.7M113.2 249.9l0 0.4M57.3 224.4l-1.4 0.5M105.1 141.3l0.1 0M90.1 231.3l-0.4 -0.1M41.9 241.5l-0 1.1M123.1 198.5l-0.5 -0.2M86 204.7l-0.6 -0.7M44.9 237.4l-0.3 0.5M129.8 240.1l-0.1 -0M54.7 213.5l-0.1 0.3M72.2 153.8l-0.4 -0M53.2 158.3l-1.1 0.1M84.4 240.4l0.9 0.9M105.1 258.4l-0.2 0.9M22 146.9l1.1 -0.8M71.2 170.5l0.7 0M120.1 232.9l-0.1 0.3M118 209.6l0.6 -1.2M123.6 211.8l0.1 -1M77.8 209.6l0.9 0.5M130.8 157.5l-0.8 0.4M134.6 204.5l-0.9 0.9M103.3 256.8l-0.7 -0.5M60.6 199.6l0.4 -0.6M107.4 265.2l0.2 1M47.4 178.9l-0.2 0.2M119.3 241.7l-0.7 0.6M111.3 191.9l-0.3 1.2M81 206.3l-0.7 0.4"/>
<path stroke="#b0b0b0" stroke-width="1.8" stroke-linecap="round" d="M114.5 223.2l-1.2 -0M76.8 192.7h0M79.7 180.5l0.1 1.3M76 209.3l0.4 0.5M25.9 269.8l-0.6 -1.3M32.2 269.7l0.9 -0M49.3 173.8l0.1 0.1M93.4 199.3l0.3 -0.7M111.9 218.8l-0.5 1M134.1 184.8l1.3 -0M48.1 162.2l0.4 -1M112.2 236.9l0.5 1M126.2 248.4l-0.3 0.7M28.6 230.4h0M54.2 153.7l0.8 0.4M111.8 152.5l-0.2 -1.3M96.3 211.8l0.1 0.2M77.1 169l-0.1 0.9M62.3 196.8l0.1 0.1M32.1 152.5l0 1M80.9 203.5l-0.5 0.3M98.2 201.6l0.7 0.1M57 230.1l0.1 -0.6M86.9 269.9l0.5 -0.1M109.4 159.2l-0.3 0.4M88.1 196.8h0M69.5 162.6l-0.1 0.1M60.5 177.7l-1 0.2M79.1 202.6l0.1 -0.1M128.6 219.3l-0.3 1.3M84.2 237.5l0.1 0.4M100.3 158.3l0 -0.4M44.6 214.8l0.6 0M45.7 197.3l-0.4 0.4M38.6 155.3l-1.1 0.3M125.9 163.5l0.8 1M75.4 210.8l-0.7 1M101.7 158.1l0.9 0.9M133.6 151.2l-0.1 0.3M134.6 184.2l0.9 0.8M24.2 190.5l0.4 -0.3M58.8 145.2l0.6 -0.8M112.9 180.1l0 -0.9"/>
<path stroke="#b0b0b0" stroke-width="2.3" stroke-linecap="round" d="M42.9 150.5l-0.4 0.1M100.4 178.7l0.3 0.2M29.2 225.7l0.1 0.8M97.1 236.4l0.4 0.3M126.2 251.9l0.2 -0.8M83.9 193.5l-0.2 -0.3M62.5 268.1l-0.2 -0.6M120.7 228.2l0.7 -0.3M103.5 227.8l-0.3 -0.5M51.8 225.6l0.2 -0.9M86.3 142l0.3 0.3M45 239.2h0M97.8 238l0.6 0.5M92.7 146.2l0.6 -0.7M29 155.1l-0.1 -0.9M50.7 184l-0.2 1M124.4 259.1l0.3 0.5M130.2 222.3l-0.3 0.1M94.5 195.4l-0.6 0.5M32.1 181.2l0.4 -0.7M26.2 194.7l-0.3 -1.4M124.1 221.8l0.5 -1M154.9 267l-1.1 -0M124.7 202l0.2 -0.1M49.9 248.2l0.1 0.3M34.2 179.8l0 0.1M132.7 170.5l-0.9 0.1M23.6 143.9l-0 -0.5"/>
<path stroke="#b0b0b0" stroke-width="2.8" stroke-linecap="round" d="M52.3 211.5l0.6 0.3M28 152.4l-0.7 -0.4M109.6 260.1l0.2 0M113.7 208.3l-0.5 1M22.6 221.1l-0.7 -0.5M28.8 260l-1 -0.3M35.2 143.8l0.3 0.3M69.2 141.7l0.7 0.3M137.5 213.6l0.3 1.2M85.3 240.8l0 0.1M47.7 183.5l-1.3 0.1M110.3 227.6l0.4 0.3M100.6 221.4l-0.3 0.1M30.2 192.3l0.2 0.4M134.7 189.8l-1.1 0.2M108.2 227.7l-0.5 -0.3M103.7 186l0.5 -0.8M32.9 266.8l-0.1 0M78.7 147.5l0.9 -0.5M114.6 260.2l0.5 1M56.5 257.5l0.7 0.4M78.5 151.6l1.1 -0.5M128.3 254l1.2 0.5M24.5 235.6l-0.1 -0.7M134.7 151.7l-0.1 0.3M70.8 249.3l0.6 0.1M45.9 218.2l-0.9 0.8M117.3 188.6l-0 -1M71.4 210.9h0M90.6 206.4h0M135.8 156.4l0.1 -0M55.3 231.7l-0.2 -0.1M99.4 268l-1.3 0.6M28.1 248.9l-0.4 -0.2M88 199l0.3 -0.5M73.7 207l0 0.1M88.9 204.3l0.1 0.1M46.3 160.7h0M78.5 192.2l-0.2 0.7M104.8 264.6l-0.1 -0.4M97.8 206.2l0.3 -0.5"/>
<path stroke="#c8c8c8" stroke-width="1.8" stroke-linecap="round" d="M131.6 271.6l-0.7 0.1M122.8 153.5l-0.3 -0.4M113.3 210.3l-0.6 -0.5M129.7 190.3l0.2 0.3M117.6 140.8l-0.1 -0.5M79.2 259.2l0.5 0.2M66.5 139.8l1.2 0.5M81 225.2l0.7 1.2M70.8 148.1l0.5 0.1M75.3 219.3l0.1 -0.7M136.1 187.9l-1 -0.1M75.4 225.5l0.4 -0.3M118.4 237.4l0.2 0.3M71.2 266.1l0.1 -0.1M115 198.6l-0.1 0.1M66.4 169.8l0.2 0.1M46.6 222.9l0.5 0.3M65.7 261.3l-0.7 -1M76.3 160.2l1.2 0.3M71.2 203.2l-0.5 1.3M73 141.4l-1 -0.2M34.4 174.2l-0.3 -0.3M92.2 233.8l-0.1 0.6M91.5 222.3h0M93.5 184l-0.7 -0.5M120.3 202.2l0.1 -0M123.9 158.1l-0.6 -0.3M46.9 150.7l-0.3 -0.5M98.2 177.3l-0.2 0.3"/>
<path stroke="#c8c8c8" stroke-width="2.3" stroke-linecap="round" d="M34.6 215.7l0 0.5M81 190.4l-1.2 -0M106.6 148.7l-0.2 0.1M121.5 164.4l-1.3 -0.5M122.2 265.7l0.6 0.8M87.3 182.5l0.1 -0.5M92.1 194.8l-0.6 0M65.3 171.3l0 -0.2M40.3 252.9l-1 0.4M127 210.5l0.4 -0.2M115.4 245.5l-0.4 0.9M99.5 147.2l-0.7 -1.3M37 159.9l0.9 0.1M85.9 207.8l0.1 0M119.9 236.7l-1.2 0.9M87.7 176.1l0.1 -0.3M25.6 148.2l1.3 -0.7M72.6 236.5l-0.3 -0.1M56.9 255.9l0.2 0.1M26.4 241.9l-0.2 0.8M94.3 226.8l-0 -1M53.2 226.4l0.5 -0.3M26.9 252.8l1.1 -0.3M34.5 224.9l0.9 -0.1M119.1 260.7l1.4 0.4M64.8 269.6l0.2 -0.8M26.1 217.6l0.5 -0.3M93.1 181.1l-1.2 0.1M58.8 193.7l-0.1 -0.2M32.3 214l-0.8 0.1M94.6 145.3l0.5 0.8M78.7 225.9l-0.2 0.6M126.4 184.8h0M101.8 175.2l0.2 -0.2M70.6 217.2l-0 0.1M24.2 179.3l0.7 -0.5M43.2 254.5l-0 1.5M104.9 156.3l-0.8 -0.2"/>
<path stroke="#c8c8c8" stroke-width="2.8" stroke-linecap="round" d="M41.7 150.3l0.8 -0.6M95.5 188.2l0.7 0.3M79.1 222.7l-0.8 0.5M31.8 203.9l0.5 0.7M128.8 139.9l-0.6 -0.8M112.6 253.9l0.3 0.1M29.5 236.7h0M127.4 207.7l0.4 -0.1M60.2 259l-0.5 0.9M89.5 259.2l0 -1M93.9 174.4l-0 0.5M89.3 264.9l-0.9 0.3M101.8 213.1l-0.1 -0.1M119.6 227.9l0.2 0.1M70.5 243.2l-0.3 0.6M44 181.2l0.2 -1.3M129.1 257.3l0.4 0.4M102.8 194.8l-0.2 0.6M110.7 192.9l-0.5 0.7M25.1 141.6h0M107.6 151.5l-0.5 -0.1M48.3 145.3l0.5 -0.6M125.2 147.7l1.1 0.6M73.1 248.8l-0.1 0.5M107 225.8l-0.6 0.1M95.3 268.6l-0.1 1.3M85.3 197.3l-1.4 0M111 148.6l-0.7 0M34.2 237.8l0 0.7M115.4 193.9l0.1 -0.9M131 259.7l-0.5 0M68 199.4h0M103.1 226.3l-0.7 0.7M51.6 266.9l-0 -0.4M34 227.4h0M99.6 152.3l-0.5 1.2"/>
<path stroke="#dedede" stroke-width="1.8" stroke-linecap="round" d="M25.6 239.1l0.4 0.8M111.6 182.5l-0.3 0.5M72.5 146.5l0.8 -0.5M67 264l-0.8 0.1M92.9 268.4l-0 -0.2M94.9 165.2l-0.3 0.4M113.1 245.7l0.8 1.1M70.7 219.7l0.9 -1M49.2 153.8l-0.1 -0.3M107.2 175.4l-1.2 0.2M104.2 159.1l0.1 0.1M104.6 149l0.8 -0.4M131.2 199.7l-0.2 -0.1M28.8 243.1l-0 -0.2M81.8 217.3l1.2 0.4M28.5 160l-0.6 0.2M122.1 207.5l0.3 -0.4M124.4 268.3l-0.3 0.2M51.4 175.8l0.7 -0.4M75.8 185.7l1 0.6M29.6 255.3l-0.9 -0.9M74.4 221.2l0.7 -0.4M61.3 184l-0.1 0.1M116.5 227.1l0.3 -0.4M64.3 149.4l0.8 1.1M126.4 152.1l-0.6 -1M96.1 162.1l-0.7 0M75 249.5l-0.2 0.8M111.9 148.1l0 -0.5M109.6 240.8l-1.1 0.8M77 189.7l0.1 0.1M113.4 201l0.4 1.3M111.5 230.7h0M93.9 231.8l-0.5 -1M33.1 190.2l-1.1 0.9"/>
<path stroke="#dedede" stroke-width="2.3" stroke-linecap="round" d="M110.1 171.1l-0.7 0.6M101.7 187.6l0.5 -0.1M30.5 161.1l0 0.3M115.7 167.7l1 -0.6M44.2 211.6l0.1 0.1M61 173.6l0.2 0.1M131.1 197.7l0.1 -0M92.3 256.8l-0.1 -0.3M130.1 265.6l0.2 0.9M122.3 254.1l-1 -0.5M106.4 222.6l1.1 0.4M106.9 244.8l0.5 -0.1M134.2 171.5l-0.4 -0.8M58.8 196.2l0.5 -1M112.5 143.1l0.2 -0.9M79.6 159.5l-1 -0.5M114.8 181l-0.7 -0.1M132.9 156.3l0.2 -0.1M121.9 185.5l0 -0.3M114.3 225.4l0 0.2M106.7 185.5l1.4 0.4M74.8 218.3l-0.7 -0.5M111.5 250.3l0.6 -0.4M65.1 226.8l0.2 0.5M111.4 232.3l-0.6 -1.3M76.2 206.1h0M97.6 237.2l-0.3 1.4M81.5 149.1l-0.2 -0M84 191.2l-0.3 -0.5M122.5 267l-0.3 -0.8M129.4 219.6l0.1 1.4M135.3 161.7l-1 0.3M64 261.4l-0.7 -0"/>
<path stroke="#dedede" stroke-width="2.8" stroke-linecap="round" d="M26 177.2l-0 0.1M116.4 267.1l-0.5 -0.4M60.1 215.8l0.7 -0M27.3 208.3l0.9 -0.3M109.6 231.2l0.6 0M70.7 145.7l-0.5 -0.4M75.8 236.6l-1 0.7M82.7 195.4l0.1 -0.9M80.8 266l-0.1 -0.4M80 263.3l-0.2 0.4M59.9 262l-0.2 -0.3M87.8 220.5l0.1 -0.4M96.7 174.6l-0.3 -0.2M27.4 158.2l-0.2 1M93.2 191.4l-0.2 1.3M26 236.9l0.6 0M26.1 238.5l-1 -0.2M123.5 210.7l-0.7 -0.5M98.7 188.9l-1.1 -0M72.2 195.7l-0.5 1.3M31.8 265.3l-0.1 0.1M134.7 174.3l-1 0.2M109.5 225.9l0.2 1M71.3 259.5l-0.1 0.1M61.8 166.9l-0.1 -0.8M119.8 181.2l0.6 -0.1M36.1 242l0.1 0.5M79.7 154.6l1.1 0.1M59.8 193l-0.8 -0.5M53.5 260.9l-0.7 -0M104.8 142.4l-0.2 -0.2M45.1 150.7l-0.3 -0.2M27.8 165.4l0.4 0.1M109.9 240.7l-0.2 -0.2M125.7 202.5l0.5 0.1M60.4 247.2l-0.9 -0.7M102.6 141.7l0.5 -1.2"/>
</g>
</g>
<text x="28.5" y="157.0" font-size="17.5" fill="#fff">D</text>
<text transform="translate(152,157.0) scale(1,1.1)" font-size="13.5" fill="#fff" text-anchor="end">20 Minutes</text>
<rect x="127" y="257.8" width="25.7" height="12.5" fill="#000"/>
<rect x="128" y="259.1" width="23.7" height="1.6" fill="#fff"/>
<text x="139.8" y="268" font-size="6.7" font-weight="bold" fill="#fff" text-anchor="middle">100 µm</text>
<clipPath id="c4"><rect x="156" y="139" width="133" height="133"/></clipPath>
<g clip-path="url(#c4)">
<rect x="156" y="139" width="133" height="133" fill="#505050"/>
<filter id="g4" x="0" y="0" width="100%" height="100%" color-interpolation-filters="sRGB"><feTurbulence type="fractalNoise" baseFrequency="0.35" numOctaves="3" seed="31"/><feColorMatrix type="matrix" values="1.2 0 0 0 -0.286  1.2 0 0 0 -0.286  1.2 0 0 0 -0.286  0 0 0 0 1"/></filter>
<rect x="156" y="139" width="133" height="133" filter="url(#g4)" opacity="0.24"/>
<g filter="url(#soft)">
<path stroke="#5a5a5a" stroke-width="3.0" stroke-linecap="round" d="M248 262.6h0M236.7 176h0M275.9 236.1h0M264.3 156.1h0M263.6 214.4h0M231.4 173.4h0M284.9 269.5h0M163.2 242.8h0M249.3 268.9h0M224 271.5h0M273.4 158.1h0M281.5 161.3h0M284.3 234.8h0M253.6 234.5h0M251.4 168.1h0M216.9 159.9h0M191.9 222h0M233 144h0M187.1 185.9h0M227 157.4h0M164.6 227.9h0M175.2 250.4h0M173.6 193.9h0M249.4 203.3h0M218.7 267.9h0M222.5 226.7h0M167.5 259h0M243 164.6h0M218.6 235h0M234.2 242h0M237.3 150.3h0M193.9 243.6h0M283.2 199.2h0M180.6 211.9h0M267.3 191.9h0M223.9 149.1h0M264.7 150.1h0M227.1 204.4h0M244.5 215.5h0M280.8 149.1h0M200.1 181.3h0M280.8 263h0M207.2 163.9h0M261.6 198.9h0M229.1 151.7h0M262 198.5h0M269 248.8h0M176.5 146.4h0M262.8 186.9h0M174.8 231.3h0M233.1 254.8h0M192.4 184.2h0"/>
<path stroke="#5a5a5a" stroke-width="4.0" stroke-linecap="round" d="M206.5 146.1h0M163.1 189h0M284.8 195.9h0M218 227h0M163.9 219.7h0M266 209.6h0M225.2 224.2h0M285.1 196.7h0M182.3 225.9h0M256.1 249.2h0M179.9 229h0M166.4 168.1h0M272.6 271.3h0M214.5 249.4h0M186.7 250.5h0M191.6 265.1h0M174.2 237.1h0M161.6 236.4h0M252.9 180.2h0M245.8 242.8h0M239.4 195.1h0M187.3 216.3h0M177.7 228.1h0M199.7 150.1h0M221.2 156.4h0M190.5 175h0M248.6 200.8h0M287.4 251.7h0M270.3 158.2h0M161.1 150.3h0M157 172.1h0M247.3 223.1h0M279.8 227.1h0M164.7 168h0M212.8 227h0M165.4 154h0M217.7 210.3h0M237.2 261.4h0M168.1 168h0M210.8 200.1h0M201.9 241.7h0M167.9 192.3h0M218.5 235.8h0M249.6 161h0"/>
<path stroke="#626262" stroke-width="3.0" stroke-linecap="round" d="M277.6 257.8h0M166 230.7h0M238.4 232.3h0M173.6 243.4h0M188.7 252.4h0M243.2 231h0M176.4 152h0M260.2 211.9h0M180.9 215.2h0M214.1 225.1h0M178.5 230.7h0M271.4 237.4h0M183.5 270h0M200 163.9h0M202.1 252.5h0M255.3 236.6h0M197 239h0M168 160.2h0M257.8 178.4h0M212.2 143.9h0M157.3 271.6h0M284.1 232.9h0M228 240.8h0M252.6 267.9h0M171.6 220.8h0M174.9 245h0M210.3 218.2h0M239.5 218.8h0M207.5 155h0M239.2 154.7h0M257 259.9h0M184.3 197.9h0M238.7 198.6h0M214.4 229.4h0M164 161.6h0M194.7 185.4h0M241.2 140.8h0M172.6 147.5h0M264 200.6h0M212.5 271.6h0M182.6 230.5h0M211.5 246.5h0M244.1 193.1h0M286.6 231.3h0M183.1 212.7h0M189.6 188.2h0M184.7 220h0M207.3 170.5h0M216.7 161.5h0M225.6 160.8h0"/>
<path stroke="#626262" stroke-width="4.0" stroke-linecap="round" d="M213.8 195.9h0M265.8 140.9h0M170.2 151.8h0M263.9 149.7h0M212.2 162.1h0M279.8 213.7h0M243.5 159.4h0M221.6 150.4h0M188.6 250.5h0M180.2 144.4h0M275.6 267.5h0M239.4 154.2h0M250.1 222h0M211.6 167h0M189.2 262.7h0M211.7 192h0M283 179.2h0M158.6 266h0M214.5 258.4h0M218.6 187.7h0M190.3 255.8h0M268.8 145h0M188.9 154.2h0M204.6 268.3h0M281.9 140h0M246.2 213h0M177.6 242.6h0M214.5 173h0M178.9 242.1h0M203.5 157.1h0M281.6 204.1h0M159.3 265.8h0M247.3 152.9h0M198.9 265.9h0M258.9 148.5h0M156.9 193.8h0M225.7 144.3h0M240.9 247h0M195.3 200.2h0M276.4 263.4h0M216.2 246.3h0M278.7 222.6h0M207 177.5h0M274.1 165.3h0M275.2 178.8h0M207.6 212.9h0M274.4 259h0M209 181.6h0M173.7 214.6h0M264.8 185.8h0M201.4 207.4h0M202.7 183.2h0M284.7 204.6h0M277.1 143.8h0"/>
<path stroke="#909090" stroke-width="1.8" stroke-linecap="round" d="M270.8 232.9l-0.1 0.1M205 265.3l1.4 0.3M164 239.6l-0.7 0.1M236.2 158.6l-0.3 0M278.1 145.1l-0.8 0.9M156.7 182.1l0.2 0.5M273.9 257.5l-0.9 0.6M206.4 221.3l0.1 -0.1M280.9 216.7l0.3 -1.1M278.8 257l0.9 0.1M234.5 151.9h0M180.2 269.8l-0.3 -0.1M183.8 149.2l0.4 -0.1M236.8 202.9l-0.4 0.8M225.9 221.3l0 -1M196.8 222l0.3 0.7M229.5 265.1l-1.2 0.3M157.6 211.4l0.1 -0.4M254.4 184.2l0.1 -0.1M228.1 142.5l0.1 -0M179.5 267.9l-0.2 0.7M158.5 224.1l-0.7 0.3M282.7 206.9l-1 0M239.3 204.9l-0.2 0M288.3 179.2l1.2 -0.8M246.2 213.7l-0.3 -0.6M278.8 256.4l-0.1 0.3M270.1 139.6l0.1 -0"/>
<path stroke="#909090" stroke-width="2.3" stroke-linecap="round" d="M229.9 251.4l-1.1 -0.6M177.9 161.9l-0.9 0.9M230.9 223.3l-0.2 -0M248.4 144.9l1.5 -0M174.9 228.5l-0.7 -0.3M243.9 153.1l-0.9 -0.7M169.4 192.8l-1.1 0.8M200.2 254.5l0.7 1.2M195.4 200.7l-0.5 0.8M192.3 205.2l0.5 1.1M252.8 244.6l0.2 -0M230 155.1l-0.6 -0.8M166.1 139.8l-0.6 -0.6M228.6 221.8l-0 -0.1M206.8 163.2l0.5 -0.1M284.2 213.1l0.5 0.2M237 192.9l-0.7 0.5M199.4 162.2l1.1 0.1M202.9 215l0 -0.1M279 211.3l0.8 -0.9M242.2 154.3l-0.2 -0.7M195.4 214.6l0.7 -0.9M178.1 256.1l-0.5 0.5M163.9 194.4l0.8 0.3M214 143l-0.1 0M166.7 190.9l-0.6 -0.1M176.6 178.4l0.3 -0.1M258.6 221.5l-0.4 -0.7M168.1 268.3l0.3 0.5M199 223.5l-1.4 0M216.7 211.4l-0.7 1M240.9 171.6l-0.1 -0M183.2 203.9h0M288.5 181.9l-0.8 0.3"/>
<path stroke="#909090" stroke-width="2.8" stroke-linecap="round" d="M195.9 246.7l0.7 -0.8M280.7 250.6l0.2 -0.5M240.5 231l-0 0.1M284 202.1l-1.1 -0.6M243.6 252.8l0.1 0.3M234.3 255.2h0M177.6 263l1 -0.9M173.2 242.9l0.8 0.7M211.7 172.5l1 -0.8M201.4 184.1l0.4 0.1M182 265.3l-0.7 -1M264.6 268l-0.6 -0.9M235.1 155.3l0.9 1M215.6 232.6l0.4 -1.1M218.8 260l-0.1 -0M183.3 186.2l-0.7 -0.6M262.6 198.4l0.8 0.2M245.6 193.6l-0.5 0.8M280.3 204.9l0.4 -1.4M250.2 222.4l-0.5 -0.8M162.1 179.9l-0.7 -0.2M272.9 231.6l1.4 0.5M277.5 172.7l-0.5 0.6M256.7 159.1l-0.1 -0.3M209.1 266.9l-0.8 0.8M163 244.6l-1.1 -0.9M222.8 253.5l0.1 -0.2M250.5 159l-0 0.3M192.5 189.5l-0.7 0.4M250.3 144.9l-1.2 -0.9M216.8 181.5l-0.6 0M191 197.1l0.3 0.9M264 186.2l-0.5 1.1M182.1 207.7l0 0.2M174.3 160.1l-0.1 -0.6"/>
<path stroke="#a8a8a8" stroke-width="1.8" stroke-linecap="round" d="M247.3 156.2l0.3 0.2M219.2 268l0 0.1M221.6 188.4l0 -0.3M159.1 254l1.1 0.1M252.7 189.3l0.5 0.5M252.5 226.7l-0 0.1M275.2 139.3l0.2 -0.5M284.4 259.6l-0.3 -0M156.7 194.3l1 -0.5M222.1 142.1l0.7 1.2M161.9 193.9l1.1 -0.2M236.9 204.8l-1.1 0.7M158.7 242.2l0.4 -0M201.8 174.1h0M283.6 179.4l-0.2 -0.2M237.9 170.1l1 0.3M277.8 151.2l0.3 0.5M258.6 143.8l-0.1 0.1M200 172.4l-0.4 -0.5M177.5 267l1.1 -0.7M218.5 202.8l0.8 1.1M169.3 270.5l-0.4 0.2M166.8 254l-1.3 -0.5M274 246.4l-1.3 0.1M283.8 210.8l-0.7 -0.2M215.9 193.5l0.1 -0M211.9 184.5l-0.6 -0.9M281.4 223.8l-1.3 0.5M225.2 148.9l-0 0.2M163.7 141.9l0.7 0.9M185.9 139l0.9 1.1M173.4 222.3l-0.7 0.3"/>
<path stroke="#a8a8a8" stroke-width="2.3" stroke-linecap="round" d="M278.2 203.4l0.1 0.5M200 151.7l-0.5 0.2M276.8 171.5l-0.3 -0M196.2 166.6l-0.3 -0.3M173 216.5l-0.2 0.4M278.1 181.2l-1.1 0M201.2 241.7l-1 0.3M229.5 250.4l0.1 -0.1M182.3 152.9l-0.2 -0M162.7 259.9l-0.4 0.1M174.3 219.5l-0.5 -0.8M184.8 156.8l0.5 0.7M201.9 251.2l-0.1 0.9M286.9 249.8l-0.1 -0.3M251.3 207.5l0.5 -0.9M269.9 271.4l-0 -0.3M267 147.6l0.2 1.5M198.3 247.6l-1.1 0.9M277 177.4l1.3 0.2M276.7 166.1l1.1 -1M188.6 249.8l-0.8 -1M255.8 141.1l-0.1 0.1M210 190.3l-0.1 -0.1M168.1 258.6l-0 -0.3M161.9 255.5l-0.1 0.3M268.6 178.1l-1.2 0.6M177.5 204.9l-0.9 -0.3M236.9 209.2l0.5 -1M242 204.5l0.8 -0.3M242.6 200.4l0.1 0.5M224.5 257.1l-0.6 0.6M163.5 228.3l0.2 0.2M223.4 226.6l0.5 1M167.9 224.2l0.8 -0.8M202.3 215.2l-0.3 0.7M218.4 219l-0.3 0.4M258 241.9l-0.2 -1.4M258.2 230.6l-0.4 0.9M260.2 148.1l-0.2 -0.5M230.6 221.5l-0.2 0.8"/>
<path stroke="#a8a8a8" stroke-width="2.8" stroke-linecap="round" d="M182.8 182.2l-0.2 0.1M253.3 142.9l-1.1 -0.5M262.7 249l-0.5 0.2M234.2 229.4l-0.2 -0.5M222.6 206.2l-0.6 -0.6M279.2 158.4l0.3 -0.7M169.4 181.4l-0 -1.4M178.4 231.6l0.2 -0.1M208 265.4h0M245.6 201.3l-1 0.7M218.4 177.1l-0.3 0.6M230 205.3l-0.1 0.6M277.4 233.8l-1.1 0.2M165.9 191.4l0.5 -1.3M182.1 229.7l1.4 0.2M262.7 219.7l-1.1 -0.1M277.6 188.9l-0.9 -1M224.7 211.3l-0.6 1M161.7 242l0 -0.6M191.2 221.8l-1 0.5M288.6 179.3l-0 0.1M274.5 193.8l-0.8 0.9M178.9 262.7l-0.5 -0.7M181.4 189.6l0 0.2M250.8 186l0.5 -1.2M250.6 272l-0 -0.3M270.2 148.6l0.6 0.5M276.7 206.7l-0.2 0M250.8 164.4l0.9 -0.6M218 147.3l-0.8 0.5M261.8 231.2l-0.8 1M286.9 250.7l-0.7 0.1M222.6 189l-0.4 0.5M273.5 240.4l0.4 0.1M190.8 152.5l1.2 -0.1M284 190.8l-0.5 1.2M179.1 207l-0 -0.2M234.8 143.3h0M245 251.6l-1.2 0.6"/>
<path stroke="#c0c0c0" stroke-width="1.8" stroke-linecap="round" d="M261.6 177.7l0.4 -0.2M227.7 229l-1 0.4M212.2 213l0.8 -0.7M271.4 159.9l0.2 -0.1M205.2 258.4l-0.3 -0.1M280.4 187l-0.1 0.3M172.6 197.7l-0 -0.3M277 182.3l0.5 -0.9M216.2 233.6l-0 0.1M237.9 165.7l1.1 -0.3M265.2 196.1h0M236.3 174.8l-0.9 -1M260.1 246.5l-0.7 0.1M281 157.2l0.2 0.3M261.2 233.9l0.9 -1.1M190.3 182.6l0.4 0.5M285.2 236.2l0.4 0M238.1 184.4l-0.3 0.2M209 189.5l0.2 0.7M177.6 185.5l-0.3 1.3M164.9 205.6l0.2 -0.4M184.4 261.5l-0.4 0.1M271.5 212.7l-0.4 0.8M240.5 245.2l-0.3 -0.4M247.6 241.4l0.7 -0.1M239.7 248.6l-1.4 -0.5M161.8 176.4l0.2 -1.4M238 239.8l-0.9 -0.9M209.2 233.5l1.1 -0.3M190.4 211.8l-0 0.1M181.7 259.9l-0.5 -1.1M286 243.1l0.4 0.9"/>
<path stroke="#c0c0c0" stroke-width="2.3" stroke-linecap="round" d="M229 163.2l0.2 0.6M238.7 150.9l-0.6 0.2M169 194.8l-1.3 0.2M227.8 247.2l-0.2 -0.3M279.3 241.3l0.7 0.2M187.7 148.7l-0.1 -0.1M236.4 256.4l0.1 0.2M208 186.5l0.5 -0.2M236 144.3l-1.3 -0.4M242.5 250.1l-0.1 0.7M183.8 193.1l-0.2 0.4M156.6 253.6l0.3 0.4M254 249.7l-0.1 -1.2M224.5 195.3l0 0.1M165.6 219.3l0.5 0.2M252.9 219.5l-0.3 -1.3M280.2 189.9l0.3 -1.1M244.7 215.8l-0.1 -1.5M251.4 205.7l-0.7 -0.1M246.8 252.1l-0.6 0.2M259.7 242.7l0.5 -1M162.1 246.3l0.3 0.3M175.3 230.5l-0.1 0.1M257 237l0.6 -0.3M246.5 168.3l-0.1 0.6M265.1 149.2l-0.3 0.9M177.8 168l0 0.6M227.6 217.7l-0.9 0.6M162.6 223.7l0.7 0.1"/>
<path stroke="#c0c0c0" stroke-width="2.8" stroke-linecap="round" d="M276.1 248.1l0.1 1.2M279.5 203.7l-0.6 -0.6M166.1 177.1l-0.5 -0.7M250 262.3l-1.4 0.4M272.6 191.6l0.5 -0.9M265 207.1l-1.1 -0.3M237.7 183.1l0.1 -0M239.1 166.3l1.2 -0.3M267.9 210.9l0.1 0.5M249.1 178.6l-0.2 0.2M272.1 187.7l-0.7 -0M278.9 207.4l0.4 -0.1M162.1 168l-0.4 -1.1M209.2 237.6l0.3 0M214.4 222.1l0.1 -1.2M207.3 152.5l-0.2 0.2M176.2 158.6l0.4 -1.3M235.2 196.1l0.9 -0.2M286.4 173.8l-0.1 -0.1M189.1 176.8l0 -0.2M245 209.7l0.6 -0.8M284.3 141.1l0.2 0.2M179.7 244.1l0.2 0.6M284.7 204.9l-0.1 0M193.4 236.2l-0.6 -0.2M280.8 255.9l-0.4 0.9M261.9 268.1l0 -0.3M271.1 229l-0.3 0.3M278.8 251.1l1.2 0.2M245.1 261.8l-0.1 -0.5M187 174.3l-0.3 0.9M216.8 207.8l-0.4 0.1M264.4 159.4l0.7 0.6M236.9 155.2l0.5 0.5M157.1 173.5l0.8 -0"/>
<path stroke="#d8d8d8" stroke-width="1.8" stroke-linecap="round" d="M178.3 256.4l-0.2 -0.3M190.1 175l0.3 0.9M268.7 261.8l-0.5 0.9M160.1 193.8l1.3 0.7M278.3 262.5l-0.6 0.4M266.6 199.7l-0.6 0.9M248.3 259.3l0.5 -0.1M230.3 143.7l0.2 -1.1M248.8 231.5l0.2 0.4M254.8 216.7l-0.1 -0.6M172.9 228.8l0.8 0.9M280 197l0.9 -0.5M249.3 190.3l-1.4 0.2M261 230.4h0M170.4 195.9l-1.5 0.2M217.9 248.2l0.1 -0M276.2 182l-0.5 0.5M198.8 202.8l0.2 0.2M163.2 165.4l-0.1 -0M224.9 242l0 1.5M266.5 214.7l0.8 0.9M192.5 241.5l0.2 -0.1M173.8 251.5l-0.7 -0.1M162.6 171.4l1.2 0.5M257.5 187.4l-0.3 0.3M283.2 140.2l1.1 0.9M197.5 268.9l-0.8 1.1M216.1 235.9l-1.5 0.1M228.1 148.4l1.3 -0.1M169.4 175.7l-0.5 1.1M263 226.3l0 1.3M224.8 217.2l-1.2 0.3M208.1 176.1l-0.4 0.6M256.4 198.9l-0.9 -0.8M186.4 223.7l1.3 0.8"/>
<path stroke="#d8d8d8" stroke-width="2.3" stroke-linecap="round" d="M250 231.4l-0.5 0.1M197.1 145.3l-0.4 0.5M266.5 156.4l-0.4 0.6M280.3 157.9l0.6 0.2M215.6 143.3l0.2 -1.1M262.3 222.6h0M280.1 201l-0.4 -0.1M179.9 164.9l0.1 0.3M162 208.4l0.5 -0M159.3 188.5l-0.7 -0.1M195.6 203.5l0.1 -0M184.4 240.5h0M223.1 228l0.4 1M185.9 179.1l0.7 -0.6M235.5 197.2l0 0.9M279.4 187.1l0.1 -0.9M194.5 182.2l1 -1M172.8 255.4l0.4 -0.1M224.5 219.5l-1.2 -0.4M260.8 194.9l-0.2 -0.3M244.5 239.1l0.8 0M281.2 233.8l-1.5 0.1M255 202.8l0.4 -0.6M275.4 226.2l0.9 0.5M221.6 221.6l-0.1 0.1M187.4 235.4l-0.1 -0.5M201.2 262l-0.7 -0.2M196.9 163.9l0.5 -0.6M233.2 166.7l-0.1 0.4M281.3 184.7l-0.2 -1.4M215.2 232.6l-0.1 -1.3M164 199.5l-1.3 -0.5M176.2 178.9l0.5 0.4M275.2 161.9l0.5 0"/>
<path stroke="#d8d8d8" stroke-width="2.8" stroke-linecap="round" d="M235.8 202.6l-0 -0.2M239.1 162.6l-0.9 -0.9M170.3 148.1l-0.3 0.6M194.8 225.4l-0.2 0.1M238.5 203.9l0.9 0.4M282.5 244.9l-1.4 0.4M289 267.8l1 0.9M215.1 150.6l-0.3 -0.1M246.1 268.3l-0.5 -1.2M229.3 267.5l0.6 -1.2M277.7 169.6l0.4 0.6M209.2 181.1l-0.2 0.2M222 185h0M281 253.1l0.5 -0.4M227.4 216.3l-0.1 -1.3M232.6 141.7l-0.1 -0.2M275.2 210.6l1.1 0.1M288.8 168.8l1.2 0.4M274.1 227.2l0.4 -0.1M256.9 182.7l-0.5 0.3M278.5 259.9l-0.9 0.3M240.7 207.4l-0.1 0.3M276.3 165.4l0.4 -0.4M222.7 254.6l0.4 0.4M271.9 141.3l-0.8 -0.4M276.6 234.5l0.4 0.4M243.5 178h0"/>
</g>
</g>
<text x="161" y="157.0" font-size="17.5" fill="#fff">E</text>
<text transform="translate(286,157.0) scale(1,1.1)" font-size="13.5" fill="#fff" text-anchor="end">1 Hour</text>
<rect x="261.1" y="257.8" width="25.7" height="12.5" fill="#000"/>
<rect x="262.1" y="259.1" width="23.7" height="1.6" fill="#fff"/>
<text x="274" y="268" font-size="6.7" font-weight="bold" fill="#fff" text-anchor="middle">100 µm</text>
<clipPath id="c5"><rect x="290" y="139" width="134" height="133"/></clipPath>
<g clip-path="url(#c5)">
<rect x="290" y="139" width="134" height="133" fill="#5a5a5a"/>
<filter id="g5" x="0" y="0" width="100%" height="100%" color-interpolation-filters="sRGB"><feTurbulence type="fractalNoise" baseFrequency="0.45" numOctaves="3" seed="38"/><feColorMatrix type="matrix" values="1.0 0 0 0 -0.147  1.0 0 0 0 -0.147  1.0 0 0 0 -0.147  0 0 0 0 1"/></filter>
<rect x="290" y="139" width="134" height="133" filter="url(#g5)" opacity="0.32"/>
<g filter="url(#soft)">
<path stroke="#767676" stroke-width="1.6" stroke-linecap="round" d="M422.4 246.2h0M408 168h0M361.7 187.9h0M380 269.9h0M365.9 245.7h0M374.6 216.7h0M366.1 168.1h0M298.1 203.6h0M310.2 153.1h0M325.7 158.1h0M401.7 198.1h0M404.7 254.2h0M390 187.3h0M363.4 210.8h0M338.3 189h0M402.6 247h0M349.1 152.6h0M400.5 242.6h0M405.5 211.6h0M418.7 252.2h0M419.6 258h0M361.8 220h0"/>
<path stroke="#767676" stroke-width="2.0" stroke-linecap="round" d="M360.2 157.6h0M353.7 245.9h0M343.5 149.4h0M392.9 150.8h0M376.7 232.4h0M332.4 260.9h0M381.2 222.9h0M403.5 230.5h0M400.3 218.7h0M337.8 183h0M408 234.2h0M390.9 252h0M363.8 189.7h0M391.4 166.9h0M420.3 264h0M345.3 167.4h0M413 144.4h0M317.7 237.5h0M354.4 204.8h0M397.2 217.6h0M339.2 194.4h0M354 238.9h0M380.5 159.7h0M326.9 162h0M298 250.1h0M392.4 217.4h0M315.6 253.7h0"/>
<path stroke="#767676" stroke-width="2.4" stroke-linecap="round" d="M361.1 220.4h0M310.4 218.7h0M294.9 196.6h0M297.1 163.5h0M387.9 157h0M416.6 228.9h0M412.5 167.7h0M293.6 245.5h0M392.9 266.7h0M351.6 271.7h0M390.4 161.7h0M419.3 218.8h0M347.4 235.5h0M321.3 169.7h0M305.4 235.5h0M370.5 266.9h0M361 268.1h0"/>
<path stroke="#8c8c8c" stroke-width="1.6" stroke-linecap="round" d="M419.7 231.2h0M293.5 249.8h0M406.5 218.9h0M332.9 194.6h0M421.5 212h0M303.3 160.3h0M293.4 151.8h0M344.6 197.6h0M371 253.7h0M357.7 253.4h0M380 168.6h0M423.9 168.7h0M349.8 201.1h0M376.4 263.2h0M389.8 245.9h0M365.1 190h0"/>
<path stroke="#8c8c8c" stroke-width="2.0" stroke-linecap="round" d="M305.6 239.8h0M346.6 175.1h0M365.1 143.2h0M369.8 204.4h0M346 255.8h0M344.3 239.7h0M325.4 218.2h0M423.8 169.8h0M323.7 146h0M300.5 226.5h0M372.7 225.9h0M411.2 214.8h0M403.6 209.1h0M353.1 190.2h0M400.9 250.7h0M331 241.3h0M413.5 252.3h0M400.8 215h0M382.9 226.6h0"/>
<path stroke="#8c8c8c" stroke-width="2.4" stroke-linecap="round" d="M365.4 179h0M374.6 251.6h0M412.8 198.1h0M316.1 199.4h0M421.4 268.8h0M334.4 179.7h0M367.1 248.2h0M345.9 256.9h0M371.8 252.9h0M374.5 217.2h0M345.9 268.7h0M343.3 241.9h0M344.4 160.4h0M420.7 254.1h0M403.4 176.3h0M409.1 229.5h0M352.8 160.9h0M335.6 269.9h0"/>
<path stroke="#a4a4a4" stroke-width="1.6" stroke-linecap="round" d="M418.6 155.6h0M319.6 239.9h0M404 235.6h0M329.2 171.9h0M360.8 168.2h0M360 144.8h0M414.6 155.3h0M318.4 261.5h0M386.7 220.7h0M416.9 183.9h0M300.1 162.1h0M369.7 196.1h0M342.1 190.1h0M408.8 221.6h0M334.6 220.9h0M366 207.7h0M326.9 151.8h0"/>
<path stroke="#a4a4a4" stroke-width="2.0" stroke-linecap="round" d="M410 186.8h0M322.6 168.5h0M388.5 209.9h0M387.8 186.6h0M423.6 253h0M326.7 174.8h0M384.7 213.7h0M339.8 165.2h0M393.6 175.7h0M381.7 197.6h0M290.5 140.8h0M360.8 199.1h0M332.3 232.1h0M367 261.2h0M330.4 209.2h0M416.3 209.2h0M376.9 190.8h0M368.3 151.2h0M410 214.6h0M316.2 156.6h0M330.9 178.8h0"/>
<path stroke="#a4a4a4" stroke-width="2.4" stroke-linecap="round" d="M345 188.5h0M371.5 197.3h0M362.7 269.2h0M352.1 156.5h0M384.2 220.6h0M314.1 173.3h0M419.4 238.8h0M419.1 155.1h0M400 225.5h0M332.9 202.7h0M344 184.9h0M324.8 155.7h0M374.8 165.5h0M366.5 228.7h0M382.5 198.4h0M396.1 247.8h0"/>
<path stroke="#bcbcbc" stroke-width="1.6" stroke-linecap="round" d="M340.9 182.4h0M343.2 158.2h0M381 259.2h0M403.8 254.7h0M396.2 217.7h0M351.9 186.6h0M356.4 212.7h0M360.9 161.4h0M403.1 182h0M346.6 194.2h0M315.6 200.1h0M412.3 203.1h0M401.5 251.4h0M397.6 231.1h0M373.5 166h0"/>
<path stroke="#bcbcbc" stroke-width="2.0" stroke-linecap="round" d="M345.2 203.3h0M311.7 266.3h0M387.4 258.6h0M404.2 252.7h0M343.7 224.4h0M332.6 249.8h0M389 167.7h0M414.2 202.2h0M398.1 235h0M421.9 230.1h0M390.6 191.5h0M348.3 244.7h0M423 152.6h0"/>
<path stroke="#bcbcbc" stroke-width="2.4" stroke-linecap="round" d="M421.2 145.3h0M371.7 251.6h0M405.9 188.7h0M417.9 225.7h0M306.2 246.8h0M393.6 212.4h0M401.5 159h0M401.7 231h0M381.8 225.3h0M321 181.4h0M310.8 184.4h0M364.4 260.2h0M311.5 168.9h0M355.7 149.1h0M405.7 240.2h0M349.2 184.5h0M305.8 213.7h0M374.7 167.2h0M331.2 173.7h0"/>
</g>
</g>
<text x="296.1" y="157.0" font-size="17.5" fill="#fff">F</text>
<text transform="translate(421,157.0) scale(1,1.1)" font-size="13.5" fill="#fff" text-anchor="end">3 Hours</text>
<rect x="395.1" y="257.8" width="25.7" height="12.5" fill="#000"/>
<rect x="396.1" y="259.1" width="23.7" height="1.6" fill="#fff"/>
<text x="408" y="268" font-size="6.7" font-weight="bold" fill="#fff" text-anchor="middle">100 µm</text>
<rect x="155" y="3" width="1" height="269" fill="#8c8c8c"/>
<rect x="289" y="3" width="1" height="269" fill="#8c8c8c"/>
<rect x="22" y="138" width="402" height="1" fill="#8c8c8c"/>
<rect x="22" y="3" width="402" height="1" fill="#7a7a7a"/>
<text transform="translate(18,67.5) rotate(-90) scale(1,1.08)" font-size="15.5" text-anchor="middle" fill="#000">Fos Protein</text>
<text transform="translate(18.3,202.2) rotate(-90) scale(1,1.08)" font-size="15.5" text-anchor="middle" fill="#000"><tspan font-style="italic">c-fos</tspan> mRNA</text>
<clipPath id="plotclip"><rect x="59" y="270" width="346" height="199.5"/></clipPath>
<rect x="59" y="288.8" width="326" height="177.7" fill="#e5e5e5"/>
<line x1="59" x2="62" y1="466.5" y2="466.5" stroke="#b4b4b4" stroke-width="0.7"/>
<text x="57.6" y="469" font-size="7" fill="#262626" text-anchor="end">0</text>
<line x1="59" x2="59" y1="466.5" y2="463.0" stroke="#b4b4b4" stroke-width="0.7"/>
<text x="59" y="475.1" font-size="7" fill="#262626" text-anchor="middle">0</text>
<line x1="59" x2="62" y1="446.8" y2="446.8" stroke="#b4b4b4" stroke-width="0.7"/>
<text x="57.6" y="449.3" font-size="7" fill="#262626" text-anchor="end">20</text>
<line x1="91.6" x2="91.6" y1="466.5" y2="463.0" stroke="#b4b4b4" stroke-width="0.7"/>
<text x="91.6" y="475.1" font-size="7" fill="#262626" text-anchor="middle">20</text>
<line x1="59" x2="62" y1="427.1" y2="427.1" stroke="#b4b4b4" stroke-width="0.7"/>
<text x="57.6" y="429.6" font-size="7" fill="#262626" text-anchor="end">40</text>
<line x1="124.2" x2="124.2" y1="466.5" y2="463.0" stroke="#b4b4b4" stroke-width="0.7"/>
<text x="124.2" y="475.1" font-size="7" fill="#262626" text-anchor="middle">40</text>
<line x1="59" x2="62" y1="407.5" y2="407.5" stroke="#b4b4b4" stroke-width="0.7"/>
<text x="57.6" y="410" font-size="7" fill="#262626" text-anchor="end">60</text>
<line x1="156.9" x2="156.9" y1="466.5" y2="463.0" stroke="#b4b4b4" stroke-width="0.7"/>
<text x="156.9" y="475.1" font-size="7" fill="#262626" text-anchor="middle">60</text>
<line x1="59" x2="62" y1="387.8" y2="387.8" stroke="#b4b4b4" stroke-width="0.7"/>
<text x="57.6" y="390.3" font-size="7" fill="#262626" text-anchor="end">80</text>
<line x1="189.5" x2="189.5" y1="466.5" y2="463.0" stroke="#b4b4b4" stroke-width="0.7"/>
<text x="189.5" y="475.1" font-size="7" fill="#262626" text-anchor="middle">80</text>
<line x1="59" x2="62" y1="368.1" y2="368.1" stroke="#b4b4b4" stroke-width="0.7"/>
<text x="57.6" y="370.6" font-size="7" fill="#262626" text-anchor="end">100</text>
<line x1="222.1" x2="222.1" y1="466.5" y2="463.0" stroke="#b4b4b4" stroke-width="0.7"/>
<text x="222.1" y="475.1" font-size="7" fill="#262626" text-anchor="middle">100</text>
<line x1="59" x2="62" y1="348.4" y2="348.4" stroke="#b4b4b4" stroke-width="0.7"/>
<text x="57.6" y="350.9" font-size="7" fill="#262626" text-anchor="end">120</text>
<line x1="254.7" x2="254.7" y1="466.5" y2="463.0" stroke="#b4b4b4" stroke-width="0.7"/>
<text x="254.7" y="475.1" font-size="7" fill="#262626" text-anchor="middle">120</text>
<line x1="59" x2="62" y1="328.7" y2="328.7" stroke="#b4b4b4" stroke-width="0.7"/>
<text x="57.6" y="331.2" font-size="7" fill="#262626" text-anchor="end">140</text>
<line x1="287.3" x2="287.3" y1="466.5" y2="463.0" stroke="#b4b4b4" stroke-width="0.7"/>
<text x="287.3" y="475.1" font-size="7" fill="#262626" text-anchor="middle">140</text>
<line x1="59" x2="62" y1="309.1" y2="309.1" stroke="#b4b4b4" stroke-width="0.7"/>
<text x="57.6" y="311.6" font-size="7" fill="#262626" text-anchor="end">160</text>
<line x1="320" x2="320" y1="466.5" y2="463.0" stroke="#b4b4b4" stroke-width="0.7"/>
<text x="320" y="475.1" font-size="7" fill="#262626" text-anchor="middle">160</text>
<line x1="59" x2="62" y1="289.4" y2="289.4" stroke="#b4b4b4" stroke-width="0.7"/>
<text x="57.6" y="291.9" font-size="7" fill="#262626" text-anchor="end">180</text>
<line x1="352.6" x2="352.6" y1="466.5" y2="463.0" stroke="#b4b4b4" stroke-width="0.7"/>
<text x="352.6" y="475.1" font-size="7" fill="#262626" text-anchor="middle">180</text>
<text x="220.6" y="285.4" font-size="9.18" font-weight="bold" fill="#000" text-anchor="middle">Quanty-cFOS Biological Application: Hot Plate Analysis</text>
<text x="222" y="486.2" font-size="9.25" fill="#1e1e1e" text-anchor="middle">Time Line (Minutes)</text>
<text transform="translate(43.4,377.5) rotate(-90)" font-size="9.2" fill="#1e1e1e" text-anchor="middle"><tspan font-style="italic">c-fos</tspan>/Fos Positive Counts</text>
<text x="26.6" y="292.3" font-size="18.3" fill="#000">G</text>
<g clip-path="url(#plotclip)">
<path d="M91.6 371.8L108.1 393.2L91.6 414.4L75.1 393.2z" fill="#0000ff" stroke="#000" stroke-width="1"/>
<path d="M142.6 365.1h28.5v28h-28.5z" fill="#ff0000" stroke="#000" stroke-width="1"/>
<path d="M156.9 383L172.4 399L156.9 414.5L141.4 399z" fill="#0000ff" stroke="#000" stroke-width="1"/>
<path d="M340.8 396.2h23.5v23h-23.5z" fill="#ff0000" stroke="#000" stroke-width="1"/>
<path d="M76.7 314.2L82.2 317.3L76.7 320.4z" fill="#ff8000"/>
<path d="M76.7 340.9L82.2 344L76.7 347.1z" fill="#ff8000"/>
<path d="M99.4 338.6L104.9 341.7L99.4 344.8z" fill="#ff8000"/>
<path d="M99.4 354.8L104.9 357.9L99.4 361z" fill="#ff8000"/>
<path d="M92.1 364.1L97.6 367.2L92.1 370.3z" fill="#ff8000"/>
<path d="M97.2 363.3L102.7 366.4L97.2 369.5z" fill="#ff8000"/>
<path d="M94.9 375.4L100.4 378.5L94.9 381.6z" fill="#ff8000"/>
<path d="M93.4 382.9L98.9 386L93.4 389.1z" fill="#ff8000"/>
<path d="M99.9 388.4L105.4 391.5L99.9 394.6z" fill="#ff8000"/>
<path d="M96.4 397.9L101.9 401L96.4 404.1z" fill="#ff8000"/>
<path d="M98.4 403.9L103.9 407L98.4 410.1z" fill="#ff8000"/>
<path d="M77.4 410.3L82.9 413.4L77.4 416.5z" fill="#ff8000"/>
<path d="M84.2 410.9L89.7 414L84.2 417.1z" fill="#ff8000"/>
<path d="M94.2 408.2L99.7 411.3L94.2 414.4z" fill="#ff8000"/>
<path d="M100 405.1L105.5 408.2L100 411.3z" fill="#ff8000"/>
<path d="M100 413.5L105.5 416.6L100 419.7z" fill="#ff8000"/>
<path d="M77.4 427.1L82.9 430.2L77.4 433.3z" fill="#ff8000"/>
<path d="M96.9 425.4L102.4 428.5L96.9 431.6z" fill="#ff8000"/>
<path d="M97.9 430.3L103.4 433.4L97.9 436.5z" fill="#ff8000"/>
<path d="M78.4 430.9L83.9 434L78.4 437.1z" fill="#ff8000"/>
<path d="M83.4 433.9L88.9 437L83.4 440.1z" fill="#ff8000"/>
<path d="M102.6 420.9L97.1 424L102.6 427.1z" fill="#00ff00"/>
<path d="M80.6 454.7L86.1 457.8L80.6 460.9z" fill="#ff8000"/>
<path d="M78.4 441.4L83.9 444.5L78.4 447.6z" fill="#ff8000"/>
<path d="M104.4 431.3L98.9 434.4L104.4 437.5z" fill="#00ff00"/>
<path d="M90 455.8L95.5 458.9L90 462z" fill="#ff8000"/>
<path d="M90.1 450.6L95.6 453.7L90.1 456.8z" fill="#ff8000"/>
<path d="M79.2 442.9L84.7 446L79.2 449.1z" fill="#ff8000"/>
<path d="M75.4 446.3L80.9 449.4L75.4 452.5z" fill="#ff8000"/>
<path d="M87.8 429.3L82.3 432.4L87.8 435.5z" fill="#00ff00"/>
<path d="M94.3 449.4L88.8 452.5L94.3 455.6z" fill="#00ff00"/>
<path d="M90.1 460.9L84.6 464L90.1 467.1z" fill="#00ff00"/>
<path d="M100.6 455.9L95.1 459L100.6 462.1z" fill="#00ff00"/>
<path d="M99.3 460.1L93.8 463.2L99.3 466.3z" fill="#00ff00"/>
<path d="M93.6 460.7L88.1 463.8L93.6 466.9z" fill="#00ff00"/>
<path d="M84.7 430.7L79.2 433.8L84.7 436.9z" fill="#00ff00"/>
<path d="M94.8 429.2L100.3 432.3L94.8 435.4z" fill="#ff8000"/>
<path d="M85.5 456.1L91 459.2L85.5 462.3z" fill="#ff8000"/>
<path d="M79.5 441.6L85 444.7L79.5 447.8z" fill="#ff8000"/>
<path d="M104.9 459.8L99.4 462.9L104.9 466z" fill="#00ff00"/>
<path d="M76.8 444L82.3 447.1L76.8 450.2z" fill="#ff8000"/>
<path d="M92.1 447.5L97.6 450.6L92.1 453.7z" fill="#ff8000"/>
<path d="M93.5 448.9L99 452L93.5 455.1z" fill="#ff8000"/>
<path d="M103.1 441.2L97.6 444.3L103.1 447.4z" fill="#00ff00"/>
<path d="M89.5 460L84 463.1L89.5 466.2z" fill="#00ff00"/>
<path d="M86.4 444.7L91.9 447.8L86.4 450.9z" fill="#ff8000"/>
<path d="M86 431.7L91.5 434.8L86 437.9z" fill="#ff8000"/>
<path d="M86.8 438.6L81.3 441.7L86.8 444.8z" fill="#00ff00"/>
<path d="M93.3 448.7L87.8 451.8L93.3 454.9z" fill="#00ff00"/>
<path d="M100.8 436.3L106.3 439.4L100.8 442.5z" fill="#ff8000"/>
<path d="M85.4 459.7L79.9 462.8L85.4 465.9z" fill="#00ff00"/>
<path d="M104.2 444.6L98.7 447.7L104.2 450.8z" fill="#00ff00"/>
<path d="M91.9 462.7L86.4 465.8L91.9 468.9z" fill="#00ff00"/>
<path d="M91.4 459.3L96.9 462.4L91.4 465.5z" fill="#ff8000"/>
<path d="M92 452.8L97.5 455.9L92 459z" fill="#ff8000"/>
<path d="M90.2 456L95.7 459.1L90.2 462.2z" fill="#ff8000"/>
<path d="M91.4 433.4L96.9 436.5L91.4 439.6z" fill="#ff8000"/>
<path d="M103.8 447.2L98.3 450.3L103.8 453.4z" fill="#00ff00"/>
<path d="M81.5 451.4L76 454.5L81.5 457.6z" fill="#00ff00"/>
<path d="M97.7 435.3L103.2 438.4L97.7 441.5z" fill="#ff8000"/>
<path d="M92.7 452.3L98.2 455.4L92.7 458.5z" fill="#ff8000"/>
<path d="M81.8 460.2L76.3 463.3L81.8 466.4z" fill="#00ff00"/>
<path d="M92 456.2L86.5 459.3L92 462.4z" fill="#00ff00"/>
<path d="M97.2 450.2L102.7 453.3L97.2 456.4z" fill="#ff8000"/>
<path d="M89.6 460.4L84.1 463.5L89.6 466.6z" fill="#00ff00"/>
<path d="M84 446.1L78.5 449.2L84 452.3z" fill="#00ff00"/>
<path d="M102.8 431.1L97.3 434.2L102.8 437.3z" fill="#00ff00"/>
<path d="M86.6 440.3L92.1 443.4L86.6 446.5z" fill="#ff8000"/>
<path d="M77.3 446.9L82.8 450L77.3 453.1z" fill="#ff8000"/>
<path d="M98.6 448.6L93.1 451.7L98.6 454.8z" fill="#00ff00"/>
<path d="M90 453.5L84.5 456.6L90 459.7z" fill="#00ff00"/>
<path d="M84.3 431.8L78.8 434.9L84.3 438z" fill="#00ff00"/>
<path d="M101 446.8L106.5 449.9L101 453z" fill="#ff8000"/>
<path d="M77 435.2L82.5 438.3L77 441.4z" fill="#ff8000"/>
<path d="M93.5 446.7L88 449.8L93.5 452.9z" fill="#00ff00"/>
<path d="M85 434.3L79.5 437.4L85 440.5z" fill="#00ff00"/>
<path d="M81.3 443.4L75.8 446.5L81.3 449.6z" fill="#00ff00"/>
<path d="M84.3 444.1L89.8 447.2L84.3 450.3z" fill="#ff8000"/>
<path d="M80.3 449.5L85.8 452.6L80.3 455.7z" fill="#ff8000"/>
<path d="M85.6 434L80.1 437.1L85.6 440.2z" fill="#00ff00"/>
<path d="M81.5 444.9L87 448L81.5 451.1z" fill="#ff8000"/>
<path d="M84.4 460.6L78.9 463.7L84.4 466.8z" fill="#00ff00"/>
<path d="M90.5 456.9L96 460L90.5 463.1z" fill="#ff8000"/>
<path d="M81.5 449L87 452.1L81.5 455.2z" fill="#ff8000"/>
<path d="M87.6 449.1L82.1 452.2L87.6 455.3z" fill="#00ff00"/>
<path d="M99.2 434.5L93.7 437.6L99.2 440.7z" fill="#00ff00"/>
<path d="M99 458.4L93.5 461.5L99 464.6z" fill="#00ff00"/>
<path d="M97.7 460L92.2 463.1L97.7 466.2z" fill="#00ff00"/>
<path d="M98.3 438.3L92.8 441.4L98.3 444.5z" fill="#00ff00"/>
<path d="M104.2 435.7L98.7 438.8L104.2 441.9z" fill="#00ff00"/>
<path d="M101.3 452.7L106.8 455.8L101.3 458.9z" fill="#ff8000"/>
<path d="M84.3 458.3L89.8 461.4L84.3 464.5z" fill="#ff8000"/>
<path d="M82 437.4L87.5 440.5L82 443.6z" fill="#ff8000"/>
<path d="M81.4 441.1L75.9 444.2L81.4 447.3z" fill="#00ff00"/>
<path d="M89.6 443.3L84.1 446.4L89.6 449.5z" fill="#00ff00"/>
<path d="M105.8 441.7L100.3 444.8L105.8 447.9z" fill="#00ff00"/>
<path d="M88.7 453.3L94.2 456.4L88.7 459.5z" fill="#ff8000"/>
<path d="M88.5 431.3L83 434.4L88.5 437.5z" fill="#00ff00"/>
<path d="M107.2 429.9L101.7 433L107.2 436.1z" fill="#00ff00"/>
<path d="M79.6 460.5L74.1 463.6L79.6 466.7z" fill="#00ff00"/>
<path d="M106.7 451.1L101.2 454.2L106.7 457.3z" fill="#00ff00"/>
<path d="M79.3 444.4L84.8 447.5L79.3 450.6z" fill="#ff8000"/>
<path d="M159.2 327.9L153.7 331L159.2 334.1z" fill="#00ff00"/>
<path d="M152.3 332.1L146.8 335.2L152.3 338.3z" fill="#00ff00"/>
<path d="M159.2 334.8L153.7 337.9L159.2 341z" fill="#00ff00"/>
<path d="M149.2 346.3L143.7 349.4L149.2 352.5z" fill="#00ff00"/>
<path d="M164.4 352.7L158.9 355.8L164.4 358.9z" fill="#00ff00"/>
<path d="M149.6 356.3L144.1 359.4L149.6 362.5z" fill="#00ff00"/>
<path d="M149.6 359.4L144.1 362.5L149.6 365.6z" fill="#00ff00"/>
<path d="M150.1 365.4L144.6 368.5L150.1 371.6z" fill="#00ff00"/>
<path d="M146.1 374.9L140.6 378L146.1 381.1z" fill="#00ff00"/>
<path d="M152.6 378.9L147.1 382L152.6 385.1z" fill="#00ff00"/>
<path d="M166.1 384.9L160.6 388L166.1 391.1z" fill="#00ff00"/>
<path d="M170.1 388.9L164.6 392L170.1 395.1z" fill="#00ff00"/>
<path d="M164.6 393.9L159.1 397L164.6 400.1z" fill="#00ff00"/>
<path d="M168.1 395.9L162.6 399L168.1 402.1z" fill="#00ff00"/>
<path d="M145.9 394.9L151.4 398L145.9 401.1z" fill="#ff8000"/>
<path d="M159.9 406.9L165.4 410L159.9 413.1z" fill="#ff8000"/>
<path d="M164.4 410.9L169.9 414L164.4 417.1z" fill="#ff8000"/>
<path d="M142 432.5L147.5 435.6L142 438.7z" fill="#ff8000"/>
<path d="M140.6 434.4L146.1 437.5L140.6 440.6z" fill="#ff8000"/>
<path d="M166.2 443.2L160.7 446.3L166.2 449.4z" fill="#00ff00"/>
<path d="M158.9 423L164.4 426.1L158.9 429.2z" fill="#ff8000"/>
<path d="M167.3 412.4L172.8 415.5L167.3 418.6z" fill="#ff8000"/>
<path d="M150.3 428.4L155.8 431.5L150.3 434.6z" fill="#ff8000"/>
<path d="M167.5 414.8L173 417.9L167.5 421z" fill="#ff8000"/>
<path d="M154.1 447L148.6 450.1L154.1 453.2z" fill="#00ff00"/>
<path d="M162.1 445.1L167.6 448.2L162.1 451.3z" fill="#ff8000"/>
<path d="M139.9 429.1L145.4 432.2L139.9 435.3z" fill="#ff8000"/>
<path d="M155.2 440.8L149.7 443.9L155.2 447z" fill="#00ff00"/>
<path d="M145.5 420.8L140 423.9L145.5 427z" fill="#00ff00"/>
<path d="M153.4 414.1L147.9 417.2L153.4 420.3z" fill="#00ff00"/>
<path d="M149.2 436.3L154.7 439.4L149.2 442.5z" fill="#ff8000"/>
<path d="M160.8 432.9L166.3 436L160.8 439.1z" fill="#ff8000"/>
<path d="M163 435.4L168.5 438.5L163 441.6z" fill="#ff8000"/>
<path d="M164 405.3L158.5 408.4L164 411.5z" fill="#00ff00"/>
<path d="M144.6 432.7L150.1 435.8L144.6 438.9z" fill="#ff8000"/>
<path d="M159.5 419.4L165 422.5L159.5 425.6z" fill="#ff8000"/>
<path d="M159 448.5L164.5 451.6L159 454.7z" fill="#ff8000"/>
<path d="M150.4 422.5L155.9 425.6L150.4 428.7z" fill="#ff8000"/>
<path d="M159.7 436.1L165.2 439.2L159.7 442.3z" fill="#ff8000"/>
<path d="M158.4 442.6L163.9 445.7L158.4 448.8z" fill="#ff8000"/>
<path d="M152.4 424.9L157.9 428L152.4 431.1z" fill="#ff8000"/>
<path d="M152 434.4L146.5 437.5L152 440.6z" fill="#00ff00"/>
<path d="M162.3 435.6L167.8 438.7L162.3 441.8z" fill="#ff8000"/>
<path d="M165.7 410L160.2 413.1L165.7 416.2z" fill="#00ff00"/>
<path d="M152 437.9L146.5 441L152 444.1z" fill="#00ff00"/>
<path d="M158.7 439.9L164.2 443L158.7 446.1z" fill="#ff8000"/>
<path d="M159 430.1L164.5 433.2L159 436.3z" fill="#ff8000"/>
<path d="M158.5 428.6L164 431.7L158.5 434.8z" fill="#ff8000"/>
<path d="M170.4 404.9L164.9 408L170.4 411.1z" fill="#00ff00"/>
<path d="M166.3 451.3L171.8 454.4L166.3 457.5z" fill="#ff8000"/>
<path d="M173.2 425.1L167.7 428.2L173.2 431.3z" fill="#00ff00"/>
<path d="M171.7 420.8L166.2 423.9L171.7 427z" fill="#00ff00"/>
<path d="M153.1 431.5L147.6 434.6L153.1 437.7z" fill="#00ff00"/>
<path d="M165.3 420.4L170.8 423.5L165.3 426.6z" fill="#ff8000"/>
<path d="M155.8 425.1L161.3 428.2L155.8 431.3z" fill="#ff8000"/>
<path d="M144.7 426.9L150.2 430L144.7 433.1z" fill="#ff8000"/>
<path d="M171.9 430.8L166.4 433.9L171.9 437z" fill="#00ff00"/>
<path d="M153.7 428.4L159.2 431.5L153.7 434.6z" fill="#ff8000"/>
<path d="M146 434.1L151.5 437.2L146 440.3z" fill="#ff8000"/>
<path d="M167.6 414.8L173.1 417.9L167.6 421z" fill="#ff8000"/>
<path d="M155.1 420.3L160.6 423.4L155.1 426.5z" fill="#ff8000"/>
<path d="M145.6 428.5L151.1 431.6L145.6 434.7z" fill="#ff8000"/>
<path d="M153.8 422.2L148.3 425.3L153.8 428.4z" fill="#00ff00"/>
<path d="M161.4 447L166.9 450.1L161.4 453.2z" fill="#ff8000"/>
<path d="M161.4 414.3L166.9 417.4L161.4 420.5z" fill="#ff8000"/>
<path d="M173.1 407.1L167.6 410.2L173.1 413.3z" fill="#00ff00"/>
<path d="M151.6 438.4L146.1 441.5L151.6 444.6z" fill="#00ff00"/>
<path d="M173.6 438.7L168.1 441.8L173.6 444.9z" fill="#00ff00"/>
<path d="M143.6 416.5L149.1 419.6L143.6 422.7z" fill="#ff8000"/>
<path d="M142.7 431.5L148.2 434.6L142.7 437.7z" fill="#ff8000"/>
<path d="M157.9 438L163.4 441.1L157.9 444.2z" fill="#ff8000"/>
<path d="M159.8 456L165.3 459.1L159.8 462.2z" fill="#ff8000"/>
<path d="M167.9 428.7L162.4 431.8L167.9 434.9z" fill="#00ff00"/>
<path d="M162.4 433.9L167.9 437L162.4 440.1z" fill="#ff8000"/>
<path d="M163.7 405.1L158.2 408.2L163.7 411.3z" fill="#00ff00"/>
<path d="M159.3 430.2L164.8 433.3L159.3 436.4z" fill="#ff8000"/>
<path d="M147.3 420.3L141.8 423.4L147.3 426.5z" fill="#00ff00"/>
<path d="M146.8 442.1L141.3 445.2L146.8 448.3z" fill="#00ff00"/>
<path d="M153 425.8L147.5 428.9L153 432z" fill="#00ff00"/>
<path d="M167.8 428L173.3 431.1L167.8 434.2z" fill="#ff8000"/>
<path d="M167.3 443.2L161.8 446.3L167.3 449.4z" fill="#00ff00"/>
<path d="M154.9 417.3L160.4 420.4L154.9 423.5z" fill="#ff8000"/>
<path d="M158 452.8L163.5 455.9L158 459z" fill="#ff8000"/>
<path d="M171.3 426.7L165.8 429.8L171.3 432.9z" fill="#00ff00"/>
<path d="M159.4 441L164.9 444.1L159.4 447.2z" fill="#ff8000"/>
<path d="M165.4 413.6L170.9 416.7L165.4 419.8z" fill="#ff8000"/>
<path d="M143.3 412.6L148.8 415.7L143.3 418.8z" fill="#ff8000"/>
<path d="M168.4 431.3L173.9 434.4L168.4 437.5z" fill="#ff8000"/>
<path d="M164.7 441.9L170.2 445L164.7 448.1z" fill="#ff8000"/>
<path d="M140.4 439.5L145.9 442.6L140.4 445.7z" fill="#ff8000"/>
<path d="M148.1 445.1L153.6 448.2L148.1 451.3z" fill="#ff8000"/>
<path d="M147 411.9L141.5 415L147 418.1z" fill="#00ff00"/>
<path d="M174.6 421.4L169.1 424.5L174.6 427.6z" fill="#00ff00"/>
<path d="M170 422.3L164.5 425.4L170 428.5z" fill="#00ff00"/>
<path d="M152.6 424.3L147.1 427.4L152.6 430.5z" fill="#00ff00"/>
<path d="M144.7 456.5L150.2 459.6L144.7 462.7z" fill="#ff8000"/>
<path d="M174.2 443.8L168.7 446.9L174.2 450z" fill="#00ff00"/>
<path d="M165.3 431.8L170.8 434.9L165.3 438z" fill="#ff8000"/>
<path d="M146.9 448.6L141.4 451.7L146.9 454.8z" fill="#00ff00"/>
<path d="M158.6 416.3L164.1 419.4L158.6 422.5z" fill="#ff8000"/>
<path d="M165.6 448.1L171.1 451.2L165.6 454.3z" fill="#ff8000"/>
<path d="M162.4 441.6L167.9 444.7L162.4 447.8z" fill="#ff8000"/>
<path d="M147.4 446.5L141.9 449.6L147.4 452.7z" fill="#00ff00"/>
<path d="M349.1 360.6L343.6 363.7L349.1 366.8z" fill="#00ff00"/>
<path d="M346.6 366.6L341.1 369.7L346.6 372.8z" fill="#00ff00"/>
<path d="M361.2 375.1L355.7 378.2L361.2 381.3z" fill="#00ff00"/>
<path d="M341.5 388.2L336 391.3L341.5 394.4z" fill="#00ff00"/>
<path d="M348.9 390.2L343.4 393.3L348.9 396.4z" fill="#00ff00"/>
<path d="M343.4 395.2L337.9 398.3L343.4 401.4z" fill="#00ff00"/>
<path d="M366.3 401.9L360.8 405L366.3 408.1z" fill="#00ff00"/>
<path d="M360 404.2L354.5 407.3L360 410.4z" fill="#00ff00"/>
<path d="M365.6 421.7L360.1 424.8L365.6 427.9z" fill="#00ff00"/>
<path d="M356.5 458.1L362 461.2L356.5 464.3z" fill="#ff8000"/>
<path d="M363.4 452.7L368.9 455.8L363.4 458.9z" fill="#ff8000"/>
<path d="M352.1 432L346.6 435.1L352.1 438.2z" fill="#00ff00"/>
<path d="M361.5 412L356 415.1L361.5 418.2z" fill="#00ff00"/>
<path d="M367.5 410.8L362 413.9L367.5 417z" fill="#00ff00"/>
<path d="M357.1 445.9L362.6 449L357.1 452.1z" fill="#ff8000"/>
<path d="M361.6 450.9L367.1 454L361.6 457.1z" fill="#ff8000"/>
<path d="M344.2 446L349.7 449.1L344.2 452.2z" fill="#ff8000"/>
<path d="M342.8 435.4L337.3 438.5L342.8 441.6z" fill="#00ff00"/>
<path d="M359.6 439.6L354.1 442.7L359.6 445.8z" fill="#00ff00"/>
<path d="M340.1 418.2L334.6 421.3L340.1 424.4z" fill="#00ff00"/>
<path d="M369.5 433.4L364 436.5L369.5 439.6z" fill="#00ff00"/>
<path d="M355.8 449.9L361.3 453L355.8 456.1z" fill="#ff8000"/>
<path d="M356.3 440.4L361.8 443.5L356.3 446.6z" fill="#ff8000"/>
<path d="M366.9 448.2L361.4 451.3L366.9 454.4z" fill="#00ff00"/>
<path d="M349.9 424.8L344.4 427.9L349.9 431z" fill="#00ff00"/>
<path d="M345 456.9L350.5 460L345 463.1z" fill="#ff8000"/>
<path d="M356 454.3L361.5 457.4L356 460.5z" fill="#ff8000"/>
<path d="M363.8 442.9L369.3 446L363.8 449.1z" fill="#ff8000"/>
<path d="M358.9 456.5L364.4 459.6L358.9 462.7z" fill="#ff8000"/>
<path d="M345.1 420.3L339.6 423.4L345.1 426.5z" fill="#00ff00"/>
<path d="M350.3 415.4L344.8 418.5L350.3 421.6z" fill="#00ff00"/>
<path d="M344.6 412.9L339.1 416L344.6 419.1z" fill="#00ff00"/>
<path d="M344.5 410.7L339 413.8L344.5 416.9z" fill="#00ff00"/>
<path d="M348.5 431.6L343 434.7L348.5 437.8z" fill="#00ff00"/>
<path d="M362.8 448.4L357.3 451.5L362.8 454.6z" fill="#00ff00"/>
<path d="M360.5 430.3L355 433.4L360.5 436.5z" fill="#00ff00"/>
<path d="M366.8 429.2L361.3 432.3L366.8 435.4z" fill="#00ff00"/>
<path d="M342.9 451.8L337.4 454.9L342.9 458z" fill="#00ff00"/>
<path d="M360.7 431.4L355.2 434.5L360.7 437.6z" fill="#00ff00"/>
<path d="M344.8 434.3L339.3 437.4L344.8 440.5z" fill="#00ff00"/>
<path d="M340.8 453L346.3 456.1L340.8 459.2z" fill="#ff8000"/>
<path d="M348.3 447.9L342.8 451L348.3 454.1z" fill="#00ff00"/>
<path d="M338.2 447.3L343.7 450.4L338.2 453.5z" fill="#ff8000"/>
<path d="M344.1 443.7L349.6 446.8L344.1 449.9z" fill="#ff8000"/>
<path d="M364.9 455.8L370.4 458.9L364.9 462z" fill="#ff8000"/>
<path d="M347.8 422.8L342.3 425.9L347.8 429z" fill="#00ff00"/>
<path d="M360.1 448.4L354.6 451.5L360.1 454.6z" fill="#00ff00"/>
<path d="M341.9 448.9L347.4 452L341.9 455.1z" fill="#ff8000"/>
<path d="M364.4 444.5L369.9 447.6L364.4 450.7z" fill="#ff8000"/>
<path d="M351.2 450.6L356.7 453.7L351.2 456.8z" fill="#ff8000"/>
<path d="M362.3 410.4L356.8 413.5L362.3 416.6z" fill="#00ff00"/>
<path d="M348.4 422.7L342.9 425.8L348.4 428.9z" fill="#00ff00"/>
<path d="M348.9 427.6L343.4 430.7L348.9 433.8z" fill="#00ff00"/>
<path d="M360.5 440.8L366 443.9L360.5 447z" fill="#ff8000"/>
<path d="M350.4 424.9L344.9 428L350.4 431.1z" fill="#00ff00"/>
<path d="M368.8 431.2L363.3 434.3L368.8 437.4z" fill="#00ff00"/>
<path d="M360.7 407.5L355.2 410.6L360.7 413.7z" fill="#00ff00"/>
<path d="M366 416L360.5 419.1L366 422.2z" fill="#00ff00"/>
<path d="M364.1 462.1L369.6 465.2L364.1 468.3z" fill="#ff8000"/>
<path d="M361.1 444.7L366.6 447.8L361.1 450.9z" fill="#ff8000"/>
<path d="M358.8 434L353.3 437.1L358.8 440.2z" fill="#00ff00"/>
<path d="M355.2 450.8L360.7 453.9L355.2 457z" fill="#ff8000"/>
<path d="M364.8 429.1L359.3 432.2L364.8 435.3z" fill="#00ff00"/>
<path d="M358.9 463.2L364.4 466.3L358.9 469.4z" fill="#ff8000"/>
<path d="M343.8 421.7L338.3 424.8L343.8 427.9z" fill="#00ff00"/>
<path d="M361.8 452.3L367.3 455.4L361.8 458.5z" fill="#ff8000"/>
<path d="M350.4 444.9L344.9 448L350.4 451.1z" fill="#00ff00"/>
<path d="M357.6 455L363.1 458.1L357.6 461.2z" fill="#ff8000"/>
<path d="M357.7 460L363.2 463.1L357.7 466.2z" fill="#ff8000"/>
<path d="M341 432.6L335.5 435.7L341 438.8z" fill="#00ff00"/>
<path d="M340.8 446.3L346.3 449.4L340.8 452.5z" fill="#ff8000"/>
<path d="M365 462.5L370.5 465.6L365 468.7z" fill="#ff8000"/>
<path d="M340.6 430.6L335.1 433.7L340.6 436.8z" fill="#00ff00"/>
<path d="M365.4 453.7L370.9 456.8L365.4 459.9z" fill="#ff8000"/>
<path d="M344.4 463.5L349.9 466.6L344.4 469.7z" fill="#ff8000"/>
<path d="M347.9 448.4L342.4 451.5L347.9 454.6z" fill="#00ff00"/>
<path d="M360.2 449.2L365.7 452.3L360.2 455.4z" fill="#ff8000"/>
<path d="M341.9 428L336.4 431.1L341.9 434.2z" fill="#00ff00"/>
<path d="M348.4 460.7L353.9 463.8L348.4 466.9z" fill="#ff8000"/>
<path d="M347.4 418.1L341.9 421.2L347.4 424.3z" fill="#00ff00"/>
<path d="M336.4 461.6L341.9 464.7L336.4 467.8z" fill="#ff8000"/>
<path d="M361.4 445.8L355.9 448.9L361.4 452z" fill="#00ff00"/>
<path d="M342.5 451.6L348 454.7L342.5 457.8z" fill="#ff8000"/>
<path d="M363.4 451.1L368.9 454.2L363.4 457.3z" fill="#ff8000"/>
<path d="M349.7 411.7L344.2 414.8L349.7 417.9z" fill="#00ff00"/>
<path d="M348 430.9L342.5 434L348 437.1z" fill="#00ff00"/>
<path d="M349.7 437.2L344.2 440.3L349.7 443.4z" fill="#00ff00"/>
<mask id="lm" maskUnits="userSpaceOnUse" x="0" y="270" width="428" height="210"><rect x="0" y="270" width="428" height="210" fill="#fff"/><path d="M91.6 371.8L108.1 393.2L91.6 414.4L75.1 393.2z" fill="#000" stroke="#000" stroke-width="1"/><path d="M142.6 365.1h28.5v28h-28.5z" fill="#000" stroke="#000" stroke-width="1"/><path d="M156.9 383L172.4 399L156.9 414.5L141.4 399z" fill="#000" stroke="#000" stroke-width="1"/><path d="M340.8 396.2h23.5v23h-23.5z" fill="#000" stroke="#000" stroke-width="1"/></mask>
<g mask="url(#lm)">
<polyline points="91.6,393.2 156.9,398.6 352.6,461.6" fill="none" stroke="#0000ff" stroke-width="1.4" stroke-dasharray="5 3.6"/>
<polyline points="91.6,461.3 156.9,379.2 352.6,407.5" fill="none" stroke="#ff0000" stroke-width="1.4" stroke-dasharray="5 3.6"/>
</g>
<circle cx="91.6" cy="309.6" r="3.9" fill="#0000ff" stroke="#000" stroke-width="0.6"/>
<circle cx="91.6" cy="343.5" r="3.9" fill="#0000ff" stroke="#000" stroke-width="0.6"/>
<circle cx="91.6" cy="346.6" r="3.9" fill="#0000ff" stroke="#000" stroke-width="0.6"/>
<circle cx="91.6" cy="380.2" r="3.9" fill="#0000ff" stroke="#000" stroke-width="0.6"/>
<circle cx="91.6" cy="390.2" r="3.9" fill="#0000ff" stroke="#000" stroke-width="0.6"/>
<circle cx="91.6" cy="393.4" r="3.9" fill="#0000ff" stroke="#000" stroke-width="0.6"/>
<circle cx="91.6" cy="396.5" r="3.9" fill="#0000ff" stroke="#000" stroke-width="0.6"/>
<circle cx="91.6" cy="400.8" r="3.9" fill="#0000ff" stroke="#000" stroke-width="0.6"/>
<circle cx="91.6" cy="404.4" r="3.9" fill="#0000ff" stroke="#000" stroke-width="0.6"/>
<circle cx="91.6" cy="424" r="3.9" fill="#0000ff" stroke="#000" stroke-width="0.6"/>
<circle cx="91.6" cy="427" r="3.9" fill="#0000ff" stroke="#000" stroke-width="0.6"/>
<circle cx="91.6" cy="430" r="3.9" fill="#0000ff" stroke="#000" stroke-width="0.6"/>
<circle cx="91.6" cy="433.5" r="3.9" fill="#0000ff" stroke="#000" stroke-width="0.6"/>
<circle cx="91.6" cy="459.7" r="3.9" fill="#ff0000" stroke="#000" stroke-width="0.6"/>
<circle cx="91.6" cy="462.5" r="3.9" fill="#ff0000" stroke="#000" stroke-width="0.6"/>
<circle cx="91.6" cy="465.3" r="3.9" fill="#ff0000" stroke="#000" stroke-width="0.6"/>
<line x1="91.6" x2="91.6" y1="346" y2="437" stroke="#000" stroke-width="1"/>
<circle cx="91.6" cy="453.5" r="3.9" fill="#0000ff" stroke="#000" stroke-width="0.6"/>
<circle cx="156.9" cy="304.2" r="3.9" fill="#ff0000" stroke="#000" stroke-width="0.6"/>
<circle cx="156.9" cy="305" r="3.9" fill="#ff0000" stroke="#000" stroke-width="0.6"/>
<circle cx="156.9" cy="314.3" r="3.9" fill="#ff0000" stroke="#000" stroke-width="0.6"/>
<circle cx="156.9" cy="349.4" r="3.9" fill="#ff0000" stroke="#000" stroke-width="0.6"/>
<circle cx="156.9" cy="354.2" r="3.9" fill="#ff0000" stroke="#000" stroke-width="0.6"/>
<circle cx="156.9" cy="368.8" r="3.9" fill="#0000ff" stroke="#000" stroke-width="0.6"/>
<circle cx="156.9" cy="378" r="3.9" fill="#0000ff" stroke="#000" stroke-width="0.6"/>
<circle cx="156.9" cy="386.5" r="3.9" fill="#0000ff" stroke="#000" stroke-width="0.6"/>
<circle cx="156.9" cy="397.4" r="3.9" fill="#0000ff" stroke="#000" stroke-width="0.6"/>
<circle cx="156.9" cy="402.6" r="3.9" fill="#0000ff" stroke="#000" stroke-width="0.6"/>
<circle cx="156.9" cy="407.6" r="3.9" fill="#0000ff" stroke="#000" stroke-width="0.6"/>
<circle cx="156.9" cy="413" r="3.9" fill="#0000ff" stroke="#000" stroke-width="0.6"/>
<circle cx="156.9" cy="418" r="3.9" fill="#0000ff" stroke="#000" stroke-width="0.6"/>
<circle cx="156.9" cy="424" r="3.9" fill="#0000ff" stroke="#000" stroke-width="0.6"/>
<circle cx="156.9" cy="430.3" r="3.9" fill="#0000ff" stroke="#000" stroke-width="0.6"/>
<line x1="156.9" x2="156.9" y1="334.5" y2="428" stroke="#000" stroke-width="1"/>
<circle cx="156.9" cy="443.4" r="3.9" fill="#ff0000" stroke="#000" stroke-width="0.6"/>
<circle cx="156.9" cy="450.5" r="3.9" fill="#ff0000" stroke="#000" stroke-width="0.6"/>
<circle cx="352.6" cy="356.4" r="3.9" fill="#ff0000" stroke="#000" stroke-width="0.6"/>
<circle cx="352.6" cy="361.7" r="3.9" fill="#ff0000" stroke="#000" stroke-width="0.6"/>
<circle cx="352.6" cy="380" r="3.9" fill="#ff0000" stroke="#000" stroke-width="0.6"/>
<circle cx="352.6" cy="385" r="3.9" fill="#ff0000" stroke="#000" stroke-width="0.6"/>
<circle cx="352.6" cy="389" r="3.9" fill="#ff0000" stroke="#000" stroke-width="0.6"/>
<circle cx="352.6" cy="393" r="3.9" fill="#ff0000" stroke="#000" stroke-width="0.6"/>
<circle cx="352.6" cy="397" r="3.9" fill="#ff0000" stroke="#000" stroke-width="0.6"/>
<circle cx="352.6" cy="403.5" r="3.9" fill="#ff0000" stroke="#000" stroke-width="0.6"/>
<circle cx="352.6" cy="410" r="3.9" fill="#ff0000" stroke="#000" stroke-width="0.6"/>
<circle cx="352.6" cy="416.5" r="3.9" fill="#ff0000" stroke="#000" stroke-width="0.6"/>
<circle cx="352.6" cy="421" r="3.9" fill="#ff0000" stroke="#000" stroke-width="0.6"/>
<circle cx="352.6" cy="426" r="3.9" fill="#ff0000" stroke="#000" stroke-width="0.6"/>
<circle cx="352.6" cy="431" r="3.9" fill="#ff0000" stroke="#000" stroke-width="0.6"/>
<circle cx="352.6" cy="436" r="3.9" fill="#ff0000" stroke="#000" stroke-width="0.6"/>
<circle cx="352.6" cy="439.5" r="3.9" fill="#ff0000" stroke="#000" stroke-width="0.6"/>
<circle cx="352.6" cy="442.5" r="3.9" fill="#ff0000" stroke="#000" stroke-width="0.6"/>
<line x1="352.6" x2="352.6" y1="380" y2="436" stroke="#000" stroke-width="1"/>
<circle cx="352.6" cy="448.2" r="3.9" fill="#0000ff" stroke="#000" stroke-width="0.6"/>
<circle cx="352.6" cy="455" r="3.9" fill="#0000ff" stroke="#000" stroke-width="0.6"/>
<circle cx="352.6" cy="458" r="3.9" fill="#0000ff" stroke="#000" stroke-width="0.6"/>
<circle cx="352.6" cy="461" r="3.9" fill="#0000ff" stroke="#000" stroke-width="0.6"/>
<circle cx="352.6" cy="464" r="3.9" fill="#0000ff" stroke="#000" stroke-width="0.6"/>
<circle cx="352.6" cy="467" r="3.9" fill="#0000ff" stroke="#000" stroke-width="0.6"/>
<path d="M352.6 454L357.1 460.2L352.6 466.4L348.1 460.2z" fill="#0000ff" stroke="#000" stroke-width="0.8"/>
</g>
<rect x="61.3" y="492.7" width="323.3" height="53.4" fill="#fff" stroke="#a0a0a0" stroke-width="0.6"/>
<circle cx="65.8" cy="498.7" r="1.25" fill="#000"/>
<circle cx="226.6" cy="498.7" r="1.25" fill="#000"/>
<text x="70.4" y="502.2" font-size="8.4" fill="#000">Mean Quanty-cFOS mRNA (20 Minutes)</text>
<text x="231.5" y="502.2" font-size="8.4" fill="#000">Mean Quanty-cFOS Protein (20 Minutes)</text>
<circle cx="65.8" cy="509.1" r="1.25" fill="#000"/>
<circle cx="226.6" cy="509.1" r="1.25" fill="#000"/>
<text x="70.4" y="512.6" font-size="8.4" fill="#000">Mean Quanty-cFOS mRNA (1 Hour)</text>
<text x="231.5" y="512.6" font-size="8.4" fill="#000">Mean Quanty-cFOS Protein (1 Hour)</text>
<circle cx="65.8" cy="519.5" r="1.25" fill="#000"/>
<circle cx="226.6" cy="519.5" r="1.25" fill="#000"/>
<text x="70.4" y="523.0" font-size="8.4" fill="#000">Mean Quanty-cFOS mRNA (3 Hours)</text>
<text x="231.5" y="523.0" font-size="8.4" fill="#000">Mean Quanty-cFOS Protein (3 Hours)</text>
<text x="231.5" y="533.5" font-size="8.4" fill="#000">Fos Protein Manual Counts</text>
<text x="70.4" y="544.0" font-size="8.4" fill="#000">Quanty-cFOS mRNA Counts</text>
<text x="231.5" y="544.0" font-size="8.4" fill="#000">Quanty-cFOS Protein Counts</text>
<text x="70.9" y="533.5" font-size="8.4" fill="#000"><tspan font-style="italic">c-fos</tspan> mRNA Manual Counts</text>
<path d="M63.2 526.6L69.8 530.3L63.2 534z" fill="#ff8000"/>
<path d="M229.1 526.6L222.5 530.3L229.1 534z" fill="#00ff00"/>
<circle cx="65.7" cy="540.9" r="4.1" fill="#0000ff" stroke="#000" stroke-width="0.7"/>
<circle cx="226.8" cy="540.9" r="4.1" fill="#ff0000" stroke="#000" stroke-width="0.7"/>
</svg>
</body></html>
